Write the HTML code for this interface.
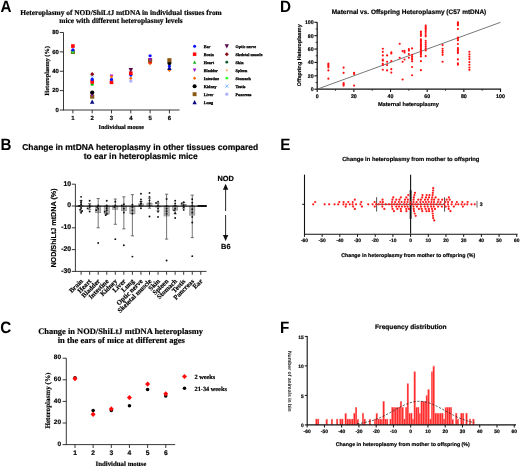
<!DOCTYPE html>
<html><head><meta charset="utf-8"><style>
html,body{margin:0;padding:0;background:#fff;}
svg{display:block;will-change:transform;}
text{text-rendering:geometricPrecision;}
</style></head><body>
<svg width="520" height="466" viewBox="0 0 520 466">
<rect width="520" height="466" fill="#fff"/>
<text transform="translate(0.60,11.50) scale(0.93,1)" style="font-family:'Liberation Sans',sans-serif;font-weight:bold;font-size:16.4px" fill="#000">A</text>
<text x="121.00" y="15.10" style="font-family:'Liberation Serif',serif;font-weight:bold;font-size:7.4px" text-anchor="middle" fill="#000" stroke="#000" stroke-width="0.18" >Heteroplasmy of NOD/ShiLtJ mtDNA in individual tissues from</text>
<text x="121.00" y="23.10" style="font-family:'Liberation Serif',serif;font-weight:bold;font-size:7.4px" text-anchor="middle" fill="#000" stroke="#000" stroke-width="0.18" >mice with different heteroplasmy levels</text>
<line x1="63.50" y1="32.50" x2="63.50" y2="110.50" stroke="#222" stroke-width="0.9" />
<line x1="63.50" y1="110.00" x2="179.50" y2="110.00" stroke="#222" stroke-width="0.9" />
<line x1="59.80" y1="110.00" x2="63.50" y2="110.00" stroke="#222" stroke-width="0.9" />
<text x="58.90" y="111.80" style="font-family:'Liberation Sans',sans-serif;font-weight:bold;font-size:5.9px" text-anchor="end" fill="#000" stroke="#000" stroke-width="0.18" >0</text>
<line x1="59.80" y1="90.62" x2="63.50" y2="90.62" stroke="#222" stroke-width="0.9" />
<text x="58.90" y="92.42" style="font-family:'Liberation Sans',sans-serif;font-weight:bold;font-size:5.9px" text-anchor="end" fill="#000" stroke="#000" stroke-width="0.18" >20</text>
<line x1="59.80" y1="71.25" x2="63.50" y2="71.25" stroke="#222" stroke-width="0.9" />
<text x="58.90" y="73.05" style="font-family:'Liberation Sans',sans-serif;font-weight:bold;font-size:5.9px" text-anchor="end" fill="#000" stroke="#000" stroke-width="0.18" >40</text>
<line x1="59.80" y1="51.88" x2="63.50" y2="51.88" stroke="#222" stroke-width="0.9" />
<text x="58.90" y="53.67" style="font-family:'Liberation Sans',sans-serif;font-weight:bold;font-size:5.9px" text-anchor="end" fill="#000" stroke="#000" stroke-width="0.18" >60</text>
<line x1="59.80" y1="32.50" x2="63.50" y2="32.50" stroke="#222" stroke-width="0.9" />
<text x="58.90" y="34.30" style="font-family:'Liberation Sans',sans-serif;font-weight:bold;font-size:5.9px" text-anchor="end" fill="#000" stroke="#000" stroke-width="0.18" >80</text>
<line x1="72.90" y1="110.00" x2="72.90" y2="113.40" stroke="#222" stroke-width="0.9" />
<text x="72.90" y="119.50" style="font-family:'Liberation Sans',sans-serif;font-weight:bold;font-size:6.0px" text-anchor="middle" fill="#000" stroke="#000" stroke-width="0.18" >1</text>
<line x1="92.20" y1="110.00" x2="92.20" y2="113.40" stroke="#222" stroke-width="0.9" />
<text x="92.20" y="119.50" style="font-family:'Liberation Sans',sans-serif;font-weight:bold;font-size:6.0px" text-anchor="middle" fill="#000" stroke="#000" stroke-width="0.18" >2</text>
<line x1="111.50" y1="110.00" x2="111.50" y2="113.40" stroke="#222" stroke-width="0.9" />
<text x="111.50" y="119.50" style="font-family:'Liberation Sans',sans-serif;font-weight:bold;font-size:6.0px" text-anchor="middle" fill="#000" stroke="#000" stroke-width="0.18" >3</text>
<line x1="130.80" y1="110.00" x2="130.80" y2="113.40" stroke="#222" stroke-width="0.9" />
<text x="130.80" y="119.50" style="font-family:'Liberation Sans',sans-serif;font-weight:bold;font-size:6.0px" text-anchor="middle" fill="#000" stroke="#000" stroke-width="0.18" >4</text>
<line x1="150.10" y1="110.00" x2="150.10" y2="113.40" stroke="#222" stroke-width="0.9" />
<text x="150.10" y="119.50" style="font-family:'Liberation Sans',sans-serif;font-weight:bold;font-size:6.0px" text-anchor="middle" fill="#000" stroke="#000" stroke-width="0.18" >5</text>
<line x1="169.40" y1="110.00" x2="169.40" y2="113.40" stroke="#222" stroke-width="0.9" />
<text x="169.40" y="119.50" style="font-family:'Liberation Sans',sans-serif;font-weight:bold;font-size:6.0px" text-anchor="middle" fill="#000" stroke="#000" stroke-width="0.18" >6</text>
<text x="121.30" y="128.60" style="font-family:'Liberation Serif',serif;font-weight:bold;font-size:6.15px" text-anchor="middle" fill="#000" stroke="#000" stroke-width="0.18" >Individual mouse</text>
<text x="0.00" y="0.00" style="font-family:'Liberation Serif',serif;font-weight:bold;font-size:6.25px" text-anchor="middle" fill="#000" stroke="#000" stroke-width="0.18" transform="translate(48.9,70.9) rotate(-90)">Heteroplasmy (%)</text>
<circle cx="72.90" cy="52.36" r="1.75" fill="#b0b4ff"/>
<rect x="70.84" y="49.82" width="4.12" height="4.12" fill="#8a5a14"/>
<polygon points="72.90,50.01 74.66,53.44 71.14,53.44" fill="#12b012"/>
<circle cx="72.90" cy="51.39" r="1.43" fill="#30ff30"/>
<circle cx="72.90" cy="49.94" r="1.62" fill="#0a14ff"/>
<rect x="71.06" y="44.23" width="3.68" height="3.68" fill="#ff0a0a"/>
<circle cx="92.20" cy="84.33" r="1.43" fill="#30ff30"/>
<polygon points="92.20,81.98 93.96,85.41 90.44,85.41" fill="#12b012"/>
<rect x="90.36" y="80.07" width="3.68" height="3.68" fill="#ff0a0a"/>
<path d="M90.55,75.89L93.85,79.20M93.85,75.89L90.55,79.20" stroke="#60a8ff" stroke-width="0.8"/>
<circle cx="92.20" cy="79.39" r="1.62" fill="#0a14ff"/>
<polygon points="92.20,72.02 94.34,74.16 92.20,76.29 90.06,74.16" fill="#8a0a14"/>
<polygon points="92.20,99.41 94.46,103.82 89.94,103.82" fill="#0a0a80"/>
<rect x="90.14" y="94.57" width="4.12" height="4.12" fill="#8a5a14"/>
<polygon points="92.20,96.65 94.05,93.04 90.35,93.04" fill="#9a10d0"/>
<circle cx="92.20" cy="92.56" r="2.11" fill="#000000"/>
<rect x="109.66" y="80.46" width="3.68" height="3.68" fill="#ff0a0a"/>
<circle cx="111.50" cy="79.39" r="1.62" fill="#0a14ff"/>
<polygon points="111.50,78.05 113.35,74.44 109.65,74.44" fill="#9a10d0"/>
<polygon points="111.50,74.91 113.27,76.67 111.50,78.44 109.73,76.67" fill="#ff6a10"/>
<circle cx="130.80" cy="80.94" r="1.75" fill="#b0b4ff"/>
<polygon points="130.80,76.45 132.57,78.22 130.80,79.99 129.03,78.22" fill="#ff6a10"/>
<circle cx="130.80" cy="75.12" r="1.62" fill="#0a14ff"/>
<rect x="128.96" y="71.35" width="3.68" height="3.68" fill="#ff0a0a"/>
<polygon points="130.80,72.45 133.06,68.03 128.54,68.03" fill="#5a0a4a"/>
<polygon points="150.10,61.73 151.87,63.50 150.10,65.27 148.33,63.50" fill="#ff6a10"/>
<rect x="148.26" y="59.73" width="3.68" height="3.68" fill="#ff0a0a"/>
<rect x="148.04" y="58.05" width="4.12" height="4.12" fill="#8a5a14"/>
<polygon points="150.10,61.58 151.95,57.97 148.25,57.97" fill="#9a10d0"/>
<circle cx="150.10" cy="55.75" r="1.62" fill="#0a14ff"/>
<polygon points="169.40,68.51 171.17,70.28 169.40,72.05 167.63,70.28" fill="#ff6a10"/>
<polygon points="169.40,65.50 171.66,69.92 167.14,69.92" fill="#0a0a80"/>
<circle cx="169.40" cy="66.12" r="1.62" fill="#0a14ff"/>
<circle cx="169.40" cy="63.02" r="2.11" fill="#000000"/>
<rect x="167.34" y="58.15" width="4.12" height="4.12" fill="#8a5a14"/>
<circle cx="194.60" cy="46.20" r="1.54" fill="#0a14ff"/>
<text x="203.80" y="47.60" style="font-family:'Liberation Serif',serif;font-weight:bold;font-size:4.1px" text-anchor="start" fill="#000" stroke="#000" stroke-width="0.26" >Ear</text>
<rect x="192.85" y="52.45" width="3.50" height="3.50" fill="#ff0a0a"/>
<text x="203.80" y="55.60" style="font-family:'Liberation Serif',serif;font-weight:bold;font-size:4.1px" text-anchor="start" fill="#000" stroke="#000" stroke-width="0.26" >Brain</text>
<polygon points="194.60,60.41 196.29,63.69 192.91,63.69" fill="#12b012"/>
<text x="203.80" y="63.60" style="font-family:'Liberation Serif',serif;font-weight:bold;font-size:4.1px" text-anchor="start" fill="#000" stroke="#000" stroke-width="0.26" >Heart</text>
<polygon points="194.60,72.08 196.37,68.62 192.83,68.62" fill="#9a10d0"/>
<text x="203.80" y="71.60" style="font-family:'Liberation Serif',serif;font-weight:bold;font-size:4.1px" text-anchor="start" fill="#000" stroke="#000" stroke-width="0.26" >Bladder</text>
<polygon points="194.60,76.50 196.30,78.20 194.60,79.90 192.90,78.20" fill="#ff6a10"/>
<text x="203.80" y="79.60" style="font-family:'Liberation Serif',serif;font-weight:bold;font-size:4.1px" text-anchor="start" fill="#000" stroke="#000" stroke-width="0.26" >Intestine</text>
<circle cx="194.60" cy="86.20" r="2.01" fill="#000000"/>
<text x="203.80" y="87.60" style="font-family:'Liberation Serif',serif;font-weight:bold;font-size:4.1px" text-anchor="start" fill="#000" stroke="#000" stroke-width="0.26" >Kidney</text>
<rect x="192.64" y="92.24" width="3.92" height="3.92" fill="#8a5a14"/>
<text x="203.80" y="95.60" style="font-family:'Liberation Serif',serif;font-weight:bold;font-size:4.1px" text-anchor="start" fill="#000" stroke="#000" stroke-width="0.26" >Liver</text>
<polygon points="194.60,99.94 196.76,104.16 192.44,104.16" fill="#0a0a80"/>
<text x="203.80" y="103.60" style="font-family:'Liberation Serif',serif;font-weight:bold;font-size:4.1px" text-anchor="start" fill="#000" stroke="#000" stroke-width="0.26" >Lung</text>
<polygon points="226.80,48.46 228.96,44.24 224.64,44.24" fill="#5a0a4a"/>
<text x="235.60" y="47.60" style="font-family:'Liberation Serif',serif;font-weight:bold;font-size:4.1px" text-anchor="start" fill="#000" stroke="#000" stroke-width="0.26" >Optic nerve</text>
<polygon points="226.80,52.15 228.85,54.20 226.80,56.25 224.75,54.20" fill="#8a0a14"/>
<text x="235.60" y="55.60" style="font-family:'Liberation Serif',serif;font-weight:bold;font-size:4.1px" text-anchor="start" fill="#000" stroke="#000" stroke-width="0.26" >Skeletal muscle</text>
<circle cx="226.80" cy="62.20" r="1.40" fill="#0a5a2a"/>
<text x="235.60" y="63.60" style="font-family:'Liberation Serif',serif;font-weight:bold;font-size:4.1px" text-anchor="start" fill="#000" stroke="#000" stroke-width="0.26" >Skin</text>
<path d="M225.66,70.20H227.94M226.80,69.06V71.34" stroke="#ffb070" stroke-width="1"/>
<text x="235.60" y="71.60" style="font-family:'Liberation Serif',serif;font-weight:bold;font-size:4.1px" text-anchor="start" fill="#000" stroke="#000" stroke-width="0.26" >Spleen</text>
<circle cx="226.80" cy="78.20" r="1.36" fill="#30ff30"/>
<text x="235.60" y="79.60" style="font-family:'Liberation Serif',serif;font-weight:bold;font-size:4.1px" text-anchor="start" fill="#000" stroke="#000" stroke-width="0.26" >Stomach</text>
<path d="M225.23,84.62L228.38,87.78M228.38,84.62L225.23,87.78" stroke="#60a8ff" stroke-width="0.8"/>
<text x="235.60" y="87.60" style="font-family:'Liberation Serif',serif;font-weight:bold;font-size:4.1px" text-anchor="start" fill="#000" stroke="#000" stroke-width="0.26" >Testis</text>
<circle cx="226.80" cy="94.20" r="1.66" fill="#b0b4ff"/>
<text x="235.60" y="95.60" style="font-family:'Liberation Serif',serif;font-weight:bold;font-size:4.1px" text-anchor="start" fill="#000" stroke="#000" stroke-width="0.26" >Pancreas</text>
<text transform="translate(0.40,149.70) scale(0.93,1)" style="font-family:'Liberation Sans',sans-serif;font-weight:bold;font-size:16.4px" fill="#000">B</text>
<text x="140.20" y="149.60" style="font-family:'Liberation Sans',sans-serif;font-weight:bold;font-size:8.45px" text-anchor="middle" fill="#000" stroke="#000" stroke-width="0.18" >Change in mtDNA heteroplasmy in other tissues compared</text>
<text x="140.70" y="159.00" style="font-family:'Liberation Sans',sans-serif;font-weight:bold;font-size:8.45px" text-anchor="middle" fill="#000" stroke="#000" stroke-width="0.18" >to ear in heteroplasmic mice</text>
<line x1="75.40" y1="184.20" x2="75.40" y2="271.90" stroke="#222" stroke-width="0.9" />
<line x1="75.40" y1="271.40" x2="206.50" y2="271.40" stroke="#222" stroke-width="0.9" />
<line x1="71.80" y1="184.20" x2="75.40" y2="184.20" stroke="#222" stroke-width="0.9" />
<text x="71.00" y="185.50" style="font-family:'Liberation Sans',sans-serif;font-weight:bold;font-size:6.8px" text-anchor="end" fill="#000" stroke="#000" stroke-width="0.18" >10</text>
<line x1="71.80" y1="206.00" x2="75.40" y2="206.00" stroke="#222" stroke-width="0.9" />
<text x="71.00" y="207.30" style="font-family:'Liberation Sans',sans-serif;font-weight:bold;font-size:6.8px" text-anchor="end" fill="#000" stroke="#000" stroke-width="0.18" >0</text>
<line x1="71.80" y1="227.80" x2="75.40" y2="227.80" stroke="#222" stroke-width="0.9" />
<text x="71.00" y="229.10" style="font-family:'Liberation Sans',sans-serif;font-weight:bold;font-size:6.8px" text-anchor="end" fill="#000" stroke="#000" stroke-width="0.18" >-10</text>
<line x1="71.80" y1="249.60" x2="75.40" y2="249.60" stroke="#222" stroke-width="0.9" />
<text x="71.00" y="250.90" style="font-family:'Liberation Sans',sans-serif;font-weight:bold;font-size:6.8px" text-anchor="end" fill="#000" stroke="#000" stroke-width="0.18" >-20</text>
<line x1="71.80" y1="271.40" x2="75.40" y2="271.40" stroke="#222" stroke-width="0.9" />
<text x="71.00" y="272.70" style="font-family:'Liberation Sans',sans-serif;font-weight:bold;font-size:6.8px" text-anchor="end" fill="#000" stroke="#000" stroke-width="0.18" >-30</text>
<text x="0.00" y="0.00" style="font-family:'Liberation Sans',sans-serif;font-weight:bold;font-size:7.2px" text-anchor="middle" fill="#000" stroke="#000" stroke-width="0.18" transform="translate(56.2,228) rotate(-90)">NOD/ShiLtJ mtDNA (%)</text>
<line x1="81.10" y1="271.40" x2="81.10" y2="274.80" stroke="#222" stroke-width="0.9" />
<text x="0.00" y="0.00" style="font-family:'Liberation Serif',serif;font-weight:bold;font-size:6.8px" text-anchor="end" fill="#000" stroke="#000" stroke-width="0.18" transform="translate(83.40,281.6) rotate(-45)">Brain</text>
<line x1="89.65" y1="271.40" x2="89.65" y2="274.80" stroke="#222" stroke-width="0.9" />
<text x="0.00" y="0.00" style="font-family:'Liberation Serif',serif;font-weight:bold;font-size:6.8px" text-anchor="end" fill="#000" stroke="#000" stroke-width="0.18" transform="translate(91.95,281.6) rotate(-45)">Heart</text>
<line x1="98.20" y1="271.40" x2="98.20" y2="274.80" stroke="#222" stroke-width="0.9" />
<text x="0.00" y="0.00" style="font-family:'Liberation Serif',serif;font-weight:bold;font-size:6.8px" text-anchor="end" fill="#000" stroke="#000" stroke-width="0.18" transform="translate(100.50,281.6) rotate(-45)">Bladder</text>
<line x1="106.75" y1="271.40" x2="106.75" y2="274.80" stroke="#222" stroke-width="0.9" />
<text x="0.00" y="0.00" style="font-family:'Liberation Serif',serif;font-weight:bold;font-size:6.8px" text-anchor="end" fill="#000" stroke="#000" stroke-width="0.18" transform="translate(109.05,281.6) rotate(-45)">Intestine</text>
<line x1="115.30" y1="271.40" x2="115.30" y2="274.80" stroke="#222" stroke-width="0.9" />
<text x="0.00" y="0.00" style="font-family:'Liberation Serif',serif;font-weight:bold;font-size:6.8px" text-anchor="end" fill="#000" stroke="#000" stroke-width="0.18" transform="translate(117.60,281.6) rotate(-45)">Kidney</text>
<line x1="123.85" y1="271.40" x2="123.85" y2="274.80" stroke="#222" stroke-width="0.9" />
<text x="0.00" y="0.00" style="font-family:'Liberation Serif',serif;font-weight:bold;font-size:6.8px" text-anchor="end" fill="#000" stroke="#000" stroke-width="0.18" transform="translate(126.15,281.6) rotate(-45)">Liver</text>
<line x1="132.40" y1="271.40" x2="132.40" y2="274.80" stroke="#222" stroke-width="0.9" />
<text x="0.00" y="0.00" style="font-family:'Liberation Serif',serif;font-weight:bold;font-size:6.8px" text-anchor="end" fill="#000" stroke="#000" stroke-width="0.18" transform="translate(134.70,281.6) rotate(-45)">Lung</text>
<line x1="140.95" y1="271.40" x2="140.95" y2="274.80" stroke="#222" stroke-width="0.9" />
<text x="0.00" y="0.00" style="font-family:'Liberation Serif',serif;font-weight:bold;font-size:6.8px" text-anchor="end" fill="#000" stroke="#000" stroke-width="0.18" transform="translate(143.25,281.6) rotate(-45)">Optic nerve</text>
<line x1="149.50" y1="271.40" x2="149.50" y2="274.80" stroke="#222" stroke-width="0.9" />
<text x="0.00" y="0.00" style="font-family:'Liberation Serif',serif;font-weight:bold;font-size:6.8px" text-anchor="end" fill="#000" stroke="#000" stroke-width="0.18" transform="translate(151.80,281.6) rotate(-45)">Skeletal muscle</text>
<line x1="158.05" y1="271.40" x2="158.05" y2="274.80" stroke="#222" stroke-width="0.9" />
<text x="0.00" y="0.00" style="font-family:'Liberation Serif',serif;font-weight:bold;font-size:6.8px" text-anchor="end" fill="#000" stroke="#000" stroke-width="0.18" transform="translate(160.35,281.6) rotate(-45)">Skin</text>
<line x1="166.60" y1="271.40" x2="166.60" y2="274.80" stroke="#222" stroke-width="0.9" />
<text x="0.00" y="0.00" style="font-family:'Liberation Serif',serif;font-weight:bold;font-size:6.8px" text-anchor="end" fill="#000" stroke="#000" stroke-width="0.18" transform="translate(168.90,281.6) rotate(-45)">Spleen</text>
<line x1="175.15" y1="271.40" x2="175.15" y2="274.80" stroke="#222" stroke-width="0.9" />
<text x="0.00" y="0.00" style="font-family:'Liberation Serif',serif;font-weight:bold;font-size:6.8px" text-anchor="end" fill="#000" stroke="#000" stroke-width="0.18" transform="translate(177.45,281.6) rotate(-45)">Stomach</text>
<line x1="183.70" y1="271.40" x2="183.70" y2="274.80" stroke="#222" stroke-width="0.9" />
<text x="0.00" y="0.00" style="font-family:'Liberation Serif',serif;font-weight:bold;font-size:6.8px" text-anchor="end" fill="#000" stroke="#000" stroke-width="0.18" transform="translate(186.00,281.6) rotate(-45)">Testis</text>
<line x1="192.25" y1="271.40" x2="192.25" y2="274.80" stroke="#222" stroke-width="0.9" />
<text x="0.00" y="0.00" style="font-family:'Liberation Serif',serif;font-weight:bold;font-size:6.8px" text-anchor="end" fill="#000" stroke="#000" stroke-width="0.18" transform="translate(194.55,281.6) rotate(-45)">Pancreas</text>
<line x1="200.80" y1="271.40" x2="200.80" y2="274.80" stroke="#222" stroke-width="0.9" />
<text x="0.00" y="0.00" style="font-family:'Liberation Serif',serif;font-weight:bold;font-size:6.8px" text-anchor="end" fill="#000" stroke="#000" stroke-width="0.18" transform="translate(203.10,281.6) rotate(-45)">Ear</text>
<rect x="78.50" y="205.56" width="5.2" height="0.44" fill="#b4b4b4" stroke="#7a7a7a" stroke-width="0.5"/>
<line x1="81.10" y1="200.77" x2="81.10" y2="211.67" stroke="#3a3a3a" stroke-width="0.7" />
<line x1="79.50" y1="200.77" x2="82.70" y2="200.77" stroke="#3a3a3a" stroke-width="0.7" />
<line x1="79.50" y1="211.67" x2="82.70" y2="211.67" stroke="#3a3a3a" stroke-width="0.7" />
<circle cx="81.10" cy="196.84" r="0.95" fill="#111"/>
<circle cx="81.10" cy="200.77" r="0.95" fill="#111"/>
<circle cx="81.10" cy="202.73" r="0.95" fill="#111"/>
<circle cx="81.10" cy="204.69" r="0.95" fill="#111"/>
<circle cx="79.10" cy="206.00" r="0.95" fill="#111"/>
<circle cx="81.10" cy="207.96" r="0.95" fill="#111"/>
<circle cx="80.10" cy="209.71" r="0.95" fill="#111"/>
<circle cx="82.10" cy="211.01" r="0.95" fill="#111"/>
<circle cx="81.10" cy="212.76" r="0.95" fill="#111"/>
<rect x="87.05" y="206.00" width="5.2" height="0.44" fill="#b4b4b4" stroke="#7a7a7a" stroke-width="0.5"/>
<line x1="89.65" y1="203.60" x2="89.65" y2="209.27" stroke="#3a3a3a" stroke-width="0.7" />
<line x1="88.05" y1="203.60" x2="91.25" y2="203.60" stroke="#3a3a3a" stroke-width="0.7" />
<line x1="88.05" y1="209.27" x2="91.25" y2="209.27" stroke="#3a3a3a" stroke-width="0.7" />
<circle cx="89.65" cy="200.77" r="0.95" fill="#111"/>
<circle cx="89.65" cy="205.13" r="0.95" fill="#111"/>
<circle cx="89.65" cy="207.09" r="0.95" fill="#111"/>
<circle cx="87.65" cy="208.40" r="0.95" fill="#111"/>
<circle cx="89.65" cy="211.45" r="0.95" fill="#111"/>
<rect x="95.60" y="206.00" width="5.2" height="6.76" fill="#b4b4b4" stroke="#7a7a7a" stroke-width="0.5"/>
<line x1="98.20" y1="198.59" x2="98.20" y2="227.80" stroke="#3a3a3a" stroke-width="0.7" />
<line x1="96.60" y1="198.59" x2="99.80" y2="198.59" stroke="#3a3a3a" stroke-width="0.7" />
<line x1="96.60" y1="227.80" x2="99.80" y2="227.80" stroke="#3a3a3a" stroke-width="0.7" />
<circle cx="98.20" cy="205.56" r="0.95" fill="#111"/>
<circle cx="97.20" cy="207.09" r="0.95" fill="#111"/>
<circle cx="98.20" cy="208.83" r="0.95" fill="#111"/>
<circle cx="96.20" cy="210.14" r="0.95" fill="#111"/>
<circle cx="98.20" cy="243.06" r="0.95" fill="#111"/>
<rect x="104.15" y="206.00" width="5.2" height="8.07" fill="#b4b4b4" stroke="#7a7a7a" stroke-width="0.5"/>
<line x1="106.75" y1="206.00" x2="106.75" y2="214.07" stroke="#3a3a3a" stroke-width="0.7" />
<line x1="105.15" y1="206.00" x2="108.35" y2="206.00" stroke="#3a3a3a" stroke-width="0.7" />
<line x1="105.15" y1="214.07" x2="108.35" y2="214.07" stroke="#3a3a3a" stroke-width="0.7" />
<circle cx="106.75" cy="200.77" r="0.95" fill="#111"/>
<circle cx="106.75" cy="205.56" r="0.95" fill="#111"/>
<circle cx="106.75" cy="208.18" r="0.95" fill="#111"/>
<circle cx="106.75" cy="210.36" r="0.95" fill="#111"/>
<circle cx="104.75" cy="211.67" r="0.95" fill="#111"/>
<circle cx="106.75" cy="213.63" r="0.95" fill="#111"/>
<circle cx="105.75" cy="215.16" r="0.95" fill="#111"/>
<rect x="112.70" y="206.00" width="5.2" height="3.27" fill="#b4b4b4" stroke="#7a7a7a" stroke-width="0.5"/>
<line x1="115.30" y1="199.02" x2="115.30" y2="224.31" stroke="#3a3a3a" stroke-width="0.7" />
<line x1="113.70" y1="199.02" x2="116.90" y2="199.02" stroke="#3a3a3a" stroke-width="0.7" />
<line x1="113.70" y1="224.31" x2="116.90" y2="224.31" stroke="#3a3a3a" stroke-width="0.7" />
<circle cx="115.30" cy="201.64" r="0.95" fill="#111"/>
<circle cx="115.30" cy="205.56" r="0.95" fill="#111"/>
<circle cx="114.30" cy="207.09" r="0.95" fill="#111"/>
<circle cx="115.30" cy="239.14" r="0.95" fill="#111"/>
<rect x="121.25" y="206.00" width="5.2" height="4.80" fill="#b4b4b4" stroke="#7a7a7a" stroke-width="0.5"/>
<line x1="123.85" y1="196.84" x2="123.85" y2="228.89" stroke="#3a3a3a" stroke-width="0.7" />
<line x1="122.25" y1="196.84" x2="125.45" y2="196.84" stroke="#3a3a3a" stroke-width="0.7" />
<line x1="122.25" y1="228.89" x2="125.45" y2="228.89" stroke="#3a3a3a" stroke-width="0.7" />
<circle cx="123.85" cy="204.26" r="0.95" fill="#111"/>
<circle cx="121.85" cy="205.56" r="0.95" fill="#111"/>
<circle cx="123.85" cy="208.62" r="0.95" fill="#111"/>
<circle cx="123.85" cy="212.54" r="0.95" fill="#111"/>
<circle cx="123.85" cy="245.24" r="0.95" fill="#111"/>
<rect x="129.80" y="206.00" width="5.2" height="7.85" fill="#b4b4b4" stroke="#7a7a7a" stroke-width="0.5"/>
<line x1="132.40" y1="194.66" x2="132.40" y2="235.87" stroke="#3a3a3a" stroke-width="0.7" />
<line x1="130.80" y1="194.66" x2="134.00" y2="194.66" stroke="#3a3a3a" stroke-width="0.7" />
<line x1="130.80" y1="235.87" x2="134.00" y2="235.87" stroke="#3a3a3a" stroke-width="0.7" />
<circle cx="132.40" cy="204.69" r="0.95" fill="#111"/>
<circle cx="132.40" cy="207.09" r="0.95" fill="#111"/>
<circle cx="132.40" cy="210.36" r="0.95" fill="#111"/>
<circle cx="132.40" cy="213.63" r="0.95" fill="#111"/>
<circle cx="132.40" cy="256.58" r="0.95" fill="#111"/>
<rect x="138.35" y="203.82" width="5.2" height="2.18" fill="#b4b4b4" stroke="#7a7a7a" stroke-width="0.5"/>
<line x1="140.95" y1="201.64" x2="140.95" y2="206.00" stroke="#3a3a3a" stroke-width="0.7" />
<line x1="139.35" y1="201.64" x2="142.55" y2="201.64" stroke="#3a3a3a" stroke-width="0.7" />
<line x1="139.35" y1="206.00" x2="142.55" y2="206.00" stroke="#3a3a3a" stroke-width="0.7" />
<circle cx="140.95" cy="193.79" r="0.95" fill="#111"/>
<circle cx="140.95" cy="199.46" r="0.95" fill="#111"/>
<circle cx="140.95" cy="201.64" r="0.95" fill="#111"/>
<circle cx="140.95" cy="203.82" r="0.95" fill="#111"/>
<circle cx="139.95" cy="205.35" r="0.95" fill="#111"/>
<circle cx="140.95" cy="208.18" r="0.95" fill="#111"/>
<rect x="146.90" y="202.95" width="5.2" height="3.05" fill="#b4b4b4" stroke="#7a7a7a" stroke-width="0.5"/>
<line x1="149.50" y1="198.15" x2="149.50" y2="208.18" stroke="#3a3a3a" stroke-width="0.7" />
<line x1="147.90" y1="198.15" x2="151.10" y2="198.15" stroke="#3a3a3a" stroke-width="0.7" />
<line x1="147.90" y1="208.18" x2="151.10" y2="208.18" stroke="#3a3a3a" stroke-width="0.7" />
<circle cx="149.50" cy="192.92" r="0.95" fill="#111"/>
<circle cx="149.50" cy="196.84" r="0.95" fill="#111"/>
<circle cx="149.50" cy="200.55" r="0.95" fill="#111"/>
<circle cx="149.50" cy="203.38" r="0.95" fill="#111"/>
<circle cx="149.50" cy="205.56" r="0.95" fill="#111"/>
<circle cx="149.50" cy="216.46" r="0.95" fill="#111"/>
<rect x="155.45" y="206.00" width="5.2" height="1.09" fill="#b4b4b4" stroke="#7a7a7a" stroke-width="0.5"/>
<line x1="158.05" y1="203.17" x2="158.05" y2="210.80" stroke="#3a3a3a" stroke-width="0.7" />
<line x1="156.45" y1="203.17" x2="159.65" y2="203.17" stroke="#3a3a3a" stroke-width="0.7" />
<line x1="156.45" y1="210.80" x2="159.65" y2="210.80" stroke="#3a3a3a" stroke-width="0.7" />
<circle cx="158.05" cy="201.64" r="0.95" fill="#111"/>
<circle cx="156.05" cy="202.95" r="0.95" fill="#111"/>
<circle cx="158.05" cy="205.56" r="0.95" fill="#111"/>
<circle cx="158.05" cy="208.62" r="0.95" fill="#111"/>
<circle cx="158.05" cy="211.67" r="0.95" fill="#111"/>
<circle cx="158.05" cy="216.90" r="0.95" fill="#111"/>
<rect x="164.00" y="206.00" width="5.2" height="10.03" fill="#b4b4b4" stroke="#7a7a7a" stroke-width="0.5"/>
<line x1="166.60" y1="194.23" x2="166.60" y2="239.14" stroke="#3a3a3a" stroke-width="0.7" />
<line x1="165.00" y1="194.23" x2="168.20" y2="194.23" stroke="#3a3a3a" stroke-width="0.7" />
<line x1="165.00" y1="239.14" x2="168.20" y2="239.14" stroke="#3a3a3a" stroke-width="0.7" />
<circle cx="166.60" cy="199.02" r="0.95" fill="#111"/>
<circle cx="166.60" cy="206.00" r="0.95" fill="#111"/>
<circle cx="166.60" cy="208.62" r="0.95" fill="#111"/>
<circle cx="166.60" cy="211.23" r="0.95" fill="#111"/>
<circle cx="166.60" cy="213.85" r="0.95" fill="#111"/>
<circle cx="166.60" cy="260.50" r="0.95" fill="#111"/>
<rect x="172.55" y="206.00" width="5.2" height="4.14" fill="#b4b4b4" stroke="#7a7a7a" stroke-width="0.5"/>
<line x1="175.15" y1="205.56" x2="175.15" y2="213.85" stroke="#3a3a3a" stroke-width="0.7" />
<line x1="173.55" y1="205.56" x2="176.75" y2="205.56" stroke="#3a3a3a" stroke-width="0.7" />
<line x1="173.55" y1="213.85" x2="176.75" y2="213.85" stroke="#3a3a3a" stroke-width="0.7" />
<circle cx="175.15" cy="200.77" r="0.95" fill="#111"/>
<circle cx="175.15" cy="203.38" r="0.95" fill="#111"/>
<circle cx="175.15" cy="205.35" r="0.95" fill="#111"/>
<circle cx="175.15" cy="208.62" r="0.95" fill="#111"/>
<circle cx="174.15" cy="210.36" r="0.95" fill="#111"/>
<circle cx="175.15" cy="213.19" r="0.95" fill="#111"/>
<circle cx="175.15" cy="217.99" r="0.95" fill="#111"/>
<rect x="181.10" y="204.26" width="5.2" height="1.74" fill="#b4b4b4" stroke="#7a7a7a" stroke-width="0.5"/>
<line x1="183.70" y1="202.51" x2="183.70" y2="208.18" stroke="#3a3a3a" stroke-width="0.7" />
<line x1="182.10" y1="202.51" x2="185.30" y2="202.51" stroke="#3a3a3a" stroke-width="0.7" />
<line x1="182.10" y1="208.18" x2="185.30" y2="208.18" stroke="#3a3a3a" stroke-width="0.7" />
<circle cx="183.70" cy="202.08" r="0.95" fill="#111"/>
<circle cx="181.70" cy="203.38" r="0.95" fill="#111"/>
<circle cx="183.70" cy="205.13" r="0.95" fill="#111"/>
<circle cx="183.70" cy="207.31" r="0.95" fill="#111"/>
<circle cx="183.70" cy="209.92" r="0.95" fill="#111"/>
<rect x="189.65" y="206.00" width="5.2" height="9.16" fill="#b4b4b4" stroke="#7a7a7a" stroke-width="0.5"/>
<line x1="192.25" y1="195.10" x2="192.25" y2="237.61" stroke="#3a3a3a" stroke-width="0.7" />
<line x1="190.65" y1="195.10" x2="193.85" y2="195.10" stroke="#3a3a3a" stroke-width="0.7" />
<line x1="190.65" y1="237.61" x2="193.85" y2="237.61" stroke="#3a3a3a" stroke-width="0.7" />
<circle cx="192.25" cy="199.24" r="0.95" fill="#111"/>
<circle cx="192.25" cy="202.73" r="0.95" fill="#111"/>
<circle cx="192.25" cy="205.56" r="0.95" fill="#111"/>
<circle cx="192.25" cy="209.27" r="0.95" fill="#111"/>
<circle cx="192.25" cy="212.54" r="0.95" fill="#111"/>
<circle cx="192.25" cy="216.90" r="0.95" fill="#111"/>
<circle cx="192.25" cy="222.57" r="0.95" fill="#111"/>
<circle cx="192.25" cy="256.14" r="0.95" fill="#111"/>
<line x1="75.40" y1="206.00" x2="206.00" y2="206.00" stroke="#111" stroke-width="1.25" />
<line x1="197.60" y1="206.00" x2="206.80" y2="206.00" stroke="#111" stroke-width="2.0" />
<text x="225.60" y="181.40" style="font-family:'Liberation Sans',sans-serif;font-weight:bold;font-size:7.4px" text-anchor="middle" fill="#000" stroke="#000" stroke-width="0.18" >NOD</text>
<text x="225.80" y="249.40" style="font-family:'Liberation Sans',sans-serif;font-weight:bold;font-size:7.4px" text-anchor="middle" fill="#000" stroke="#000" stroke-width="0.18" >B6</text>
<line x1="225.60" y1="187.00" x2="225.60" y2="211.00" stroke="#111" stroke-width="0.9" />
<line x1="225.60" y1="215.00" x2="225.60" y2="238.00" stroke="#111" stroke-width="0.9" />
<polygon points="225.6,183.8 228.3,189.8 222.9,189.8" fill="#111"/>
<polygon points="225.6,241.0 228.3,235.0 222.9,235.0" fill="#111"/>
<text transform="translate(0.30,333.10) scale(0.93,1)" style="font-family:'Liberation Sans',sans-serif;font-weight:bold;font-size:16.4px" fill="#000">C</text>
<text x="120.60" y="334.00" style="font-family:'Liberation Serif',serif;font-weight:bold;font-size:8.45px" text-anchor="middle" fill="#000" stroke="#000" stroke-width="0.18" >Change in NOD/ShiLtJ mtDNA heteroplasmy</text>
<text x="121.30" y="343.10" style="font-family:'Liberation Serif',serif;font-weight:bold;font-size:8.55px" text-anchor="middle" fill="#000" stroke="#000" stroke-width="0.18" >in the ears of mice at different ages</text>
<line x1="66.30" y1="358.20" x2="66.30" y2="445.10" stroke="#222" stroke-width="0.9" />
<line x1="66.30" y1="444.60" x2="175.20" y2="444.60" stroke="#222" stroke-width="0.9" />
<line x1="62.60" y1="444.60" x2="66.30" y2="444.60" stroke="#222" stroke-width="0.9" />
<text x="61.10" y="445.70" style="font-family:'Liberation Sans',sans-serif;font-weight:bold;font-size:6.5px" text-anchor="end" fill="#000" stroke="#000" stroke-width="0.18" >0</text>
<line x1="62.60" y1="423.00" x2="66.30" y2="423.00" stroke="#222" stroke-width="0.9" />
<text x="61.10" y="424.10" style="font-family:'Liberation Sans',sans-serif;font-weight:bold;font-size:6.5px" text-anchor="end" fill="#000" stroke="#000" stroke-width="0.18" >20</text>
<line x1="62.60" y1="401.40" x2="66.30" y2="401.40" stroke="#222" stroke-width="0.9" />
<text x="61.10" y="402.50" style="font-family:'Liberation Sans',sans-serif;font-weight:bold;font-size:6.5px" text-anchor="end" fill="#000" stroke="#000" stroke-width="0.18" >40</text>
<line x1="62.60" y1="379.80" x2="66.30" y2="379.80" stroke="#222" stroke-width="0.9" />
<text x="61.10" y="380.90" style="font-family:'Liberation Sans',sans-serif;font-weight:bold;font-size:6.5px" text-anchor="end" fill="#000" stroke="#000" stroke-width="0.18" >60</text>
<line x1="62.60" y1="358.20" x2="66.30" y2="358.20" stroke="#222" stroke-width="0.9" />
<text x="61.10" y="359.30" style="font-family:'Liberation Sans',sans-serif;font-weight:bold;font-size:6.5px" text-anchor="end" fill="#000" stroke="#000" stroke-width="0.18" >80</text>
<line x1="75.00" y1="444.60" x2="75.00" y2="448.00" stroke="#222" stroke-width="0.9" />
<text x="75.00" y="455.40" style="font-family:'Liberation Sans',sans-serif;font-weight:bold;font-size:6.7px" text-anchor="middle" fill="#000" stroke="#000" stroke-width="0.18" >1</text>
<line x1="93.15" y1="444.60" x2="93.15" y2="448.00" stroke="#222" stroke-width="0.9" />
<text x="93.15" y="455.40" style="font-family:'Liberation Sans',sans-serif;font-weight:bold;font-size:6.7px" text-anchor="middle" fill="#000" stroke="#000" stroke-width="0.18" >2</text>
<line x1="111.30" y1="444.60" x2="111.30" y2="448.00" stroke="#222" stroke-width="0.9" />
<text x="111.30" y="455.40" style="font-family:'Liberation Sans',sans-serif;font-weight:bold;font-size:6.7px" text-anchor="middle" fill="#000" stroke="#000" stroke-width="0.18" >3</text>
<line x1="129.45" y1="444.60" x2="129.45" y2="448.00" stroke="#222" stroke-width="0.9" />
<text x="129.45" y="455.40" style="font-family:'Liberation Sans',sans-serif;font-weight:bold;font-size:6.7px" text-anchor="middle" fill="#000" stroke="#000" stroke-width="0.18" >4</text>
<line x1="147.60" y1="444.60" x2="147.60" y2="448.00" stroke="#222" stroke-width="0.9" />
<text x="147.60" y="455.40" style="font-family:'Liberation Sans',sans-serif;font-weight:bold;font-size:6.7px" text-anchor="middle" fill="#000" stroke="#000" stroke-width="0.18" >5</text>
<line x1="165.75" y1="444.60" x2="165.75" y2="448.00" stroke="#222" stroke-width="0.9" />
<text x="165.75" y="455.40" style="font-family:'Liberation Sans',sans-serif;font-weight:bold;font-size:6.7px" text-anchor="middle" fill="#000" stroke="#000" stroke-width="0.18" >6</text>
<text x="120.90" y="465.60" style="font-family:'Liberation Serif',serif;font-weight:bold;font-size:6.85px" text-anchor="middle" fill="#000" stroke="#000" stroke-width="0.18" >Individual mouse</text>
<text x="0.00" y="0.00" style="font-family:'Liberation Serif',serif;font-weight:bold;font-size:7.1px" text-anchor="middle" fill="#000" stroke="#000" stroke-width="0.18" transform="translate(50.3,400.6) rotate(-90)">Heteroplasmy (%)</text>
<circle cx="75.00" cy="377.64" r="1.75" fill="#000"/>
<circle cx="93.15" cy="410.58" r="1.75" fill="#000"/>
<circle cx="111.30" cy="410.58" r="1.75" fill="#000"/>
<circle cx="129.45" cy="405.72" r="1.75" fill="#000"/>
<circle cx="147.60" cy="389.52" r="1.75" fill="#000"/>
<circle cx="165.75" cy="396.00" r="1.75" fill="#000"/>
<polygon points="75.00,376.12 77.50,378.72 75.00,381.32 72.50,378.72" fill="#ff0a0a"/>
<polygon points="93.15,411.76 95.65,414.36 93.15,416.96 90.65,414.36" fill="#ff0a0a"/>
<polygon points="111.30,406.36 113.80,408.96 111.30,411.56 108.80,408.96" fill="#ff0a0a"/>
<polygon points="129.45,395.02 131.95,397.62 129.45,400.22 126.95,397.62" fill="#ff0a0a"/>
<polygon points="147.60,381.52 150.10,384.12 147.60,386.72 145.10,384.12" fill="#ff0a0a"/>
<polygon points="165.75,391.24 168.25,393.84 165.75,396.44 163.25,393.84" fill="#ff0a0a"/>
<polygon points="184.5,373.9 187.0,376.5 184.5,379.1 182.0,376.5" fill="#ff0a0a"/>
<circle cx="184.5" cy="388.3" r="1.75" fill="#000"/>
<text x="194.50" y="379.00" style="font-family:'Liberation Serif',serif;font-weight:bold;font-size:6.3px" text-anchor="start" fill="#000" stroke="#000" stroke-width="0.18" >2 weeks</text>
<text x="194.50" y="390.80" style="font-family:'Liberation Serif',serif;font-weight:bold;font-size:6.3px" text-anchor="start" fill="#000" stroke="#000" stroke-width="0.18" >21-34 weeks</text>
<text transform="translate(280.00,11.60) scale(0.93,1)" style="font-family:'Liberation Sans',sans-serif;font-weight:bold;font-size:16.4px" fill="#000">D</text>
<text x="409.00" y="14.00" style="font-family:'Liberation Sans',sans-serif;font-weight:bold;font-size:6.47px" text-anchor="middle" fill="#000" stroke="#000" stroke-width="0.18" >Maternal vs. Offspring Heteroplasmy (C57 mtDNA)</text>
<line x1="317.20" y1="22.30" x2="317.20" y2="89.80" stroke="#111" stroke-width="1.2" />
<line x1="317.20" y1="89.20" x2="501.10" y2="89.20" stroke="#111" stroke-width="1.2" />
<line x1="314.40" y1="89.20" x2="317.20" y2="89.20" stroke="#111" stroke-width="1.1" />
<text x="313.60" y="91.10" style="font-family:'Liberation Sans',sans-serif;font-weight:bold;font-size:5.2px" text-anchor="end" fill="#000" stroke="#000" stroke-width="0.18" >0</text>
<line x1="317.20" y1="89.20" x2="317.20" y2="92.00" stroke="#111" stroke-width="1.1" />
<text x="317.20" y="97.80" style="font-family:'Liberation Sans',sans-serif;font-weight:bold;font-size:5.3px" text-anchor="middle" fill="#000" stroke="#000" stroke-width="0.18" >0</text>
<line x1="314.40" y1="75.82" x2="317.20" y2="75.82" stroke="#111" stroke-width="1.1" />
<text x="313.60" y="77.72" style="font-family:'Liberation Sans',sans-serif;font-weight:bold;font-size:5.2px" text-anchor="end" fill="#000" stroke="#000" stroke-width="0.18" >20</text>
<line x1="353.86" y1="89.20" x2="353.86" y2="92.00" stroke="#111" stroke-width="1.1" />
<text x="353.86" y="97.80" style="font-family:'Liberation Sans',sans-serif;font-weight:bold;font-size:5.3px" text-anchor="middle" fill="#000" stroke="#000" stroke-width="0.18" >20</text>
<line x1="314.40" y1="62.44" x2="317.20" y2="62.44" stroke="#111" stroke-width="1.1" />
<text x="313.60" y="64.34" style="font-family:'Liberation Sans',sans-serif;font-weight:bold;font-size:5.2px" text-anchor="end" fill="#000" stroke="#000" stroke-width="0.18" >40</text>
<line x1="390.52" y1="89.20" x2="390.52" y2="92.00" stroke="#111" stroke-width="1.1" />
<text x="390.52" y="97.80" style="font-family:'Liberation Sans',sans-serif;font-weight:bold;font-size:5.3px" text-anchor="middle" fill="#000" stroke="#000" stroke-width="0.18" >40</text>
<line x1="314.40" y1="49.06" x2="317.20" y2="49.06" stroke="#111" stroke-width="1.1" />
<text x="313.60" y="50.96" style="font-family:'Liberation Sans',sans-serif;font-weight:bold;font-size:5.2px" text-anchor="end" fill="#000" stroke="#000" stroke-width="0.18" >60</text>
<line x1="427.18" y1="89.20" x2="427.18" y2="92.00" stroke="#111" stroke-width="1.1" />
<text x="427.18" y="97.80" style="font-family:'Liberation Sans',sans-serif;font-weight:bold;font-size:5.3px" text-anchor="middle" fill="#000" stroke="#000" stroke-width="0.18" >60</text>
<line x1="314.40" y1="35.68" x2="317.20" y2="35.68" stroke="#111" stroke-width="1.1" />
<text x="313.60" y="37.58" style="font-family:'Liberation Sans',sans-serif;font-weight:bold;font-size:5.2px" text-anchor="end" fill="#000" stroke="#000" stroke-width="0.18" >80</text>
<line x1="463.84" y1="89.20" x2="463.84" y2="92.00" stroke="#111" stroke-width="1.1" />
<text x="463.84" y="97.80" style="font-family:'Liberation Sans',sans-serif;font-weight:bold;font-size:5.3px" text-anchor="middle" fill="#000" stroke="#000" stroke-width="0.18" >80</text>
<line x1="314.40" y1="22.30" x2="317.20" y2="22.30" stroke="#111" stroke-width="1.1" />
<text x="313.60" y="24.20" style="font-family:'Liberation Sans',sans-serif;font-weight:bold;font-size:5.2px" text-anchor="end" fill="#000" stroke="#000" stroke-width="0.18" >100</text>
<line x1="500.50" y1="89.20" x2="500.50" y2="92.00" stroke="#111" stroke-width="1.1" />
<text x="500.50" y="97.80" style="font-family:'Liberation Sans',sans-serif;font-weight:bold;font-size:5.3px" text-anchor="middle" fill="#000" stroke="#000" stroke-width="0.18" >100</text>
<line x1="315.60" y1="82.51" x2="317.20" y2="82.51" stroke="#111" stroke-width="0.8" />
<line x1="335.53" y1="89.20" x2="335.53" y2="90.80" stroke="#111" stroke-width="0.8" />
<line x1="315.60" y1="69.13" x2="317.20" y2="69.13" stroke="#111" stroke-width="0.8" />
<line x1="372.19" y1="89.20" x2="372.19" y2="90.80" stroke="#111" stroke-width="0.8" />
<line x1="315.60" y1="55.75" x2="317.20" y2="55.75" stroke="#111" stroke-width="0.8" />
<line x1="408.85" y1="89.20" x2="408.85" y2="90.80" stroke="#111" stroke-width="0.8" />
<line x1="315.60" y1="42.37" x2="317.20" y2="42.37" stroke="#111" stroke-width="0.8" />
<line x1="445.51" y1="89.20" x2="445.51" y2="90.80" stroke="#111" stroke-width="0.8" />
<line x1="315.60" y1="28.99" x2="317.20" y2="28.99" stroke="#111" stroke-width="0.8" />
<line x1="482.17" y1="89.20" x2="482.17" y2="90.80" stroke="#111" stroke-width="0.8" />
<text x="408.40" y="106.30" style="font-family:'Liberation Sans',sans-serif;font-weight:bold;font-size:5.6px" text-anchor="middle" fill="#000" stroke="#000" stroke-width="0.18" >Maternal heteroplasmy</text>
<text x="0.00" y="0.00" style="font-family:'Liberation Sans',sans-serif;font-weight:bold;font-size:5.45px" text-anchor="middle" fill="#000" stroke="#000" stroke-width="0.18" transform="translate(301.1,55.3) rotate(-90)">Offspring Heteroplasmy</text>
<line x1="317.20" y1="89.20" x2="500.50" y2="22.30" stroke="#555" stroke-width="0.8" />
<circle cx="328.40" cy="63.51" r="1.08" fill="#ff1010"/>
<circle cx="328.40" cy="64.78" r="1.08" fill="#ff1010"/>
<circle cx="328.40" cy="65.92" r="1.08" fill="#ff1010"/>
<circle cx="328.40" cy="67.32" r="1.08" fill="#ff1010"/>
<circle cx="328.40" cy="70.40" r="1.08" fill="#ff1010"/>
<circle cx="328.40" cy="78.63" r="1.08" fill="#ff1010"/>
<circle cx="343.60" cy="67.59" r="1.08" fill="#ff1010"/>
<circle cx="343.60" cy="72.81" r="1.08" fill="#ff1010"/>
<circle cx="343.60" cy="83.18" r="1.08" fill="#ff1010"/>
<circle cx="343.60" cy="84.38" r="1.08" fill="#ff1010"/>
<circle cx="343.60" cy="85.59" r="1.08" fill="#ff1010"/>
<circle cx="354.10" cy="72.81" r="1.08" fill="#ff1010"/>
<circle cx="354.10" cy="74.08" r="1.08" fill="#ff1010"/>
<circle cx="354.10" cy="85.59" r="1.08" fill="#ff1010"/>
<circle cx="382.80" cy="48.73" r="1.08" fill="#ff1010"/>
<circle cx="382.80" cy="51.80" r="1.08" fill="#ff1010"/>
<circle cx="382.80" cy="55.42" r="1.08" fill="#ff1010"/>
<circle cx="382.80" cy="59.70" r="1.08" fill="#ff1010"/>
<circle cx="382.80" cy="60.77" r="1.08" fill="#ff1010"/>
<circle cx="382.80" cy="63.78" r="1.08" fill="#ff1010"/>
<circle cx="382.80" cy="64.98" r="1.08" fill="#ff1010"/>
<circle cx="382.80" cy="69.73" r="1.08" fill="#ff1010"/>
<circle cx="387.10" cy="55.42" r="1.08" fill="#ff1010"/>
<circle cx="387.10" cy="61.77" r="1.08" fill="#ff1010"/>
<circle cx="387.10" cy="64.98" r="1.08" fill="#ff1010"/>
<circle cx="387.10" cy="70.40" r="1.08" fill="#ff1010"/>
<circle cx="391.30" cy="52.41" r="1.08" fill="#ff1010"/>
<circle cx="391.30" cy="53.48" r="1.08" fill="#ff1010"/>
<circle cx="391.30" cy="60.97" r="1.08" fill="#ff1010"/>
<circle cx="391.30" cy="69.13" r="1.08" fill="#ff1010"/>
<circle cx="391.30" cy="72.61" r="1.08" fill="#ff1010"/>
<circle cx="399.70" cy="43.77" r="1.08" fill="#ff1010"/>
<circle cx="399.70" cy="57.76" r="1.08" fill="#ff1010"/>
<circle cx="402.60" cy="51.07" r="1.08" fill="#ff1010"/>
<circle cx="402.60" cy="61.77" r="1.08" fill="#ff1010"/>
<circle cx="402.60" cy="79.50" r="1.08" fill="#ff1010"/>
<circle cx="404.50" cy="50.93" r="1.08" fill="#ff1010"/>
<circle cx="404.50" cy="52.41" r="1.08" fill="#ff1010"/>
<circle cx="404.50" cy="59.50" r="1.08" fill="#ff1010"/>
<circle cx="408.90" cy="49.06" r="1.08" fill="#ff1010"/>
<circle cx="408.90" cy="50.60" r="1.08" fill="#ff1010"/>
<circle cx="408.90" cy="54.08" r="1.08" fill="#ff1010"/>
<circle cx="408.90" cy="57.76" r="1.08" fill="#ff1010"/>
<circle cx="412.10" cy="48.39" r="1.08" fill="#ff1010"/>
<circle cx="412.10" cy="54.81" r="1.08" fill="#ff1010"/>
<circle cx="412.10" cy="56.49" r="1.08" fill="#ff1010"/>
<circle cx="412.10" cy="58.09" r="1.08" fill="#ff1010"/>
<circle cx="412.10" cy="59.50" r="1.08" fill="#ff1010"/>
<circle cx="412.10" cy="61.30" r="1.08" fill="#ff1010"/>
<circle cx="412.10" cy="66.99" r="1.08" fill="#ff1010"/>
<circle cx="412.10" cy="75.22" r="1.08" fill="#ff1010"/>
<circle cx="420.90" cy="31.67" r="1.08" fill="#ff1010"/>
<circle cx="420.90" cy="33.00" r="1.08" fill="#ff1010"/>
<circle cx="420.90" cy="34.68" r="1.08" fill="#ff1010"/>
<circle cx="420.90" cy="36.01" r="1.08" fill="#ff1010"/>
<circle cx="420.90" cy="39.36" r="1.08" fill="#ff1010"/>
<circle cx="420.90" cy="40.36" r="1.08" fill="#ff1010"/>
<circle cx="420.90" cy="41.70" r="1.08" fill="#ff1010"/>
<circle cx="420.90" cy="43.04" r="1.08" fill="#ff1010"/>
<circle cx="420.90" cy="44.38" r="1.08" fill="#ff1010"/>
<circle cx="420.90" cy="45.72" r="1.08" fill="#ff1010"/>
<circle cx="420.90" cy="46.72" r="1.08" fill="#ff1010"/>
<circle cx="420.90" cy="48.06" r="1.08" fill="#ff1010"/>
<circle cx="420.90" cy="49.39" r="1.08" fill="#ff1010"/>
<circle cx="420.90" cy="50.73" r="1.08" fill="#ff1010"/>
<circle cx="420.90" cy="52.07" r="1.08" fill="#ff1010"/>
<circle cx="420.90" cy="53.41" r="1.08" fill="#ff1010"/>
<circle cx="420.90" cy="54.75" r="1.08" fill="#ff1010"/>
<circle cx="420.90" cy="56.42" r="1.08" fill="#ff1010"/>
<circle cx="420.90" cy="61.10" r="1.08" fill="#ff1010"/>
<circle cx="420.90" cy="70.13" r="1.08" fill="#ff1010"/>
<circle cx="425.70" cy="25.64" r="1.08" fill="#ff1010"/>
<circle cx="425.70" cy="26.98" r="1.08" fill="#ff1010"/>
<circle cx="425.70" cy="28.19" r="1.08" fill="#ff1010"/>
<circle cx="425.70" cy="29.46" r="1.08" fill="#ff1010"/>
<circle cx="425.70" cy="31.20" r="1.08" fill="#ff1010"/>
<circle cx="425.70" cy="33.00" r="1.08" fill="#ff1010"/>
<circle cx="425.70" cy="35.01" r="1.08" fill="#ff1010"/>
<circle cx="425.70" cy="36.35" r="1.08" fill="#ff1010"/>
<circle cx="425.70" cy="40.76" r="1.08" fill="#ff1010"/>
<circle cx="425.70" cy="42.84" r="1.08" fill="#ff1010"/>
<circle cx="425.70" cy="44.71" r="1.08" fill="#ff1010"/>
<circle cx="425.70" cy="46.65" r="1.08" fill="#ff1010"/>
<circle cx="425.70" cy="48.59" r="1.08" fill="#ff1010"/>
<circle cx="425.70" cy="50.53" r="1.08" fill="#ff1010"/>
<circle cx="425.70" cy="56.08" r="1.08" fill="#ff1010"/>
<circle cx="442.60" cy="45.05" r="1.08" fill="#ff1010"/>
<circle cx="442.60" cy="48.73" r="1.08" fill="#ff1010"/>
<circle cx="442.60" cy="50.87" r="1.08" fill="#ff1010"/>
<circle cx="442.60" cy="52.67" r="1.08" fill="#ff1010"/>
<circle cx="442.60" cy="54.81" r="1.08" fill="#ff1010"/>
<circle cx="442.60" cy="61.77" r="1.08" fill="#ff1010"/>
<circle cx="457.90" cy="22.30" r="1.08" fill="#ff1010"/>
<circle cx="457.90" cy="23.30" r="1.08" fill="#ff1010"/>
<circle cx="457.90" cy="24.31" r="1.08" fill="#ff1010"/>
<circle cx="457.90" cy="25.31" r="1.08" fill="#ff1010"/>
<circle cx="457.90" cy="28.99" r="1.08" fill="#ff1010"/>
<circle cx="457.90" cy="37.69" r="1.08" fill="#ff1010"/>
<circle cx="457.90" cy="39.03" r="1.08" fill="#ff1010"/>
<circle cx="457.90" cy="40.36" r="1.08" fill="#ff1010"/>
<circle cx="457.90" cy="44.04" r="1.08" fill="#ff1010"/>
<circle cx="457.90" cy="48.06" r="1.08" fill="#ff1010"/>
<circle cx="457.90" cy="49.39" r="1.08" fill="#ff1010"/>
<circle cx="457.90" cy="50.73" r="1.08" fill="#ff1010"/>
<circle cx="457.90" cy="52.07" r="1.08" fill="#ff1010"/>
<circle cx="457.90" cy="53.07" r="1.08" fill="#ff1010"/>
<circle cx="457.90" cy="59.43" r="1.08" fill="#ff1010"/>
<circle cx="457.90" cy="63.44" r="1.08" fill="#ff1010"/>
<circle cx="457.90" cy="64.78" r="1.08" fill="#ff1010"/>
<circle cx="469.40" cy="51.74" r="1.08" fill="#ff1010"/>
<circle cx="469.40" cy="54.41" r="1.08" fill="#ff1010"/>
<circle cx="469.40" cy="56.75" r="1.08" fill="#ff1010"/>
<circle cx="469.40" cy="59.09" r="1.08" fill="#ff1010"/>
<circle cx="469.40" cy="62.11" r="1.08" fill="#ff1010"/>
<circle cx="469.40" cy="64.78" r="1.08" fill="#ff1010"/>
<circle cx="469.40" cy="67.46" r="1.08" fill="#ff1010"/>
<circle cx="469.40" cy="69.80" r="1.08" fill="#ff1010"/>
<text transform="translate(280.30,150.00) scale(0.93,1)" style="font-family:'Liberation Sans',sans-serif;font-weight:bold;font-size:16.4px" fill="#000">E</text>
<text x="410.80" y="161.10" style="font-family:'Liberation Sans',sans-serif;font-weight:bold;font-size:5.82px" text-anchor="middle" fill="#000" stroke="#000" stroke-width="0.18" >Change in heteroplasmy from mother to offspring</text>
<line x1="304.50" y1="174.60" x2="304.50" y2="234.70" stroke="#111" stroke-width="1.1" />
<line x1="304.50" y1="234.20" x2="517.50" y2="234.20" stroke="#111" stroke-width="1.1" />
<line x1="302.20" y1="204.30" x2="304.50" y2="204.30" stroke="#111" stroke-width="1.0" />
<line x1="304.45" y1="234.20" x2="304.45" y2="236.90" stroke="#111" stroke-width="1.0" />
<text x="304.45" y="241.80" style="font-family:'Liberation Sans',sans-serif;font-weight:bold;font-size:4.9px" text-anchor="middle" fill="#000" stroke="#000" stroke-width="0.18" >-60</text>
<line x1="322.14" y1="234.20" x2="322.14" y2="236.90" stroke="#111" stroke-width="1.0" />
<text x="322.14" y="241.80" style="font-family:'Liberation Sans',sans-serif;font-weight:bold;font-size:4.9px" text-anchor="middle" fill="#000" stroke="#000" stroke-width="0.18" >-50</text>
<line x1="339.83" y1="234.20" x2="339.83" y2="236.90" stroke="#111" stroke-width="1.0" />
<text x="339.83" y="241.80" style="font-family:'Liberation Sans',sans-serif;font-weight:bold;font-size:4.9px" text-anchor="middle" fill="#000" stroke="#000" stroke-width="0.18" >-40</text>
<line x1="357.53" y1="234.20" x2="357.53" y2="236.90" stroke="#111" stroke-width="1.0" />
<text x="357.53" y="241.80" style="font-family:'Liberation Sans',sans-serif;font-weight:bold;font-size:4.9px" text-anchor="middle" fill="#000" stroke="#000" stroke-width="0.18" >-30</text>
<line x1="375.22" y1="234.20" x2="375.22" y2="236.90" stroke="#111" stroke-width="1.0" />
<text x="375.22" y="241.80" style="font-family:'Liberation Sans',sans-serif;font-weight:bold;font-size:4.9px" text-anchor="middle" fill="#000" stroke="#000" stroke-width="0.18" >-20</text>
<line x1="392.91" y1="234.20" x2="392.91" y2="236.90" stroke="#111" stroke-width="1.0" />
<text x="392.91" y="241.80" style="font-family:'Liberation Sans',sans-serif;font-weight:bold;font-size:4.9px" text-anchor="middle" fill="#000" stroke="#000" stroke-width="0.18" >-10</text>
<line x1="410.60" y1="234.20" x2="410.60" y2="236.90" stroke="#111" stroke-width="1.0" />
<text x="410.60" y="241.80" style="font-family:'Liberation Sans',sans-serif;font-weight:bold;font-size:4.9px" text-anchor="middle" fill="#000" stroke="#000" stroke-width="0.18" >0</text>
<line x1="428.29" y1="234.20" x2="428.29" y2="236.90" stroke="#111" stroke-width="1.0" />
<text x="428.29" y="241.80" style="font-family:'Liberation Sans',sans-serif;font-weight:bold;font-size:4.9px" text-anchor="middle" fill="#000" stroke="#000" stroke-width="0.18" >10</text>
<line x1="445.98" y1="234.20" x2="445.98" y2="236.90" stroke="#111" stroke-width="1.0" />
<text x="445.98" y="241.80" style="font-family:'Liberation Sans',sans-serif;font-weight:bold;font-size:4.9px" text-anchor="middle" fill="#000" stroke="#000" stroke-width="0.18" >20</text>
<line x1="463.68" y1="234.20" x2="463.68" y2="236.90" stroke="#111" stroke-width="1.0" />
<text x="463.68" y="241.80" style="font-family:'Liberation Sans',sans-serif;font-weight:bold;font-size:4.9px" text-anchor="middle" fill="#000" stroke="#000" stroke-width="0.18" >30</text>
<line x1="481.37" y1="234.20" x2="481.37" y2="236.90" stroke="#111" stroke-width="1.0" />
<text x="481.37" y="241.80" style="font-family:'Liberation Sans',sans-serif;font-weight:bold;font-size:4.9px" text-anchor="middle" fill="#000" stroke="#000" stroke-width="0.18" >40</text>
<line x1="499.06" y1="234.20" x2="499.06" y2="236.90" stroke="#111" stroke-width="1.0" />
<text x="499.06" y="241.80" style="font-family:'Liberation Sans',sans-serif;font-weight:bold;font-size:4.9px" text-anchor="middle" fill="#000" stroke="#000" stroke-width="0.18" >50</text>
<line x1="516.75" y1="234.20" x2="516.75" y2="236.90" stroke="#111" stroke-width="1.0" />
<text x="516.75" y="241.80" style="font-family:'Liberation Sans',sans-serif;font-weight:bold;font-size:4.9px" text-anchor="middle" fill="#000" stroke="#000" stroke-width="0.18" >60</text>
<text x="408.20" y="256.70" style="font-family:'Liberation Sans',sans-serif;font-weight:bold;font-size:5.27px" text-anchor="middle" fill="#000" stroke="#000" stroke-width="0.18" >Change in heteroplasmy from mother to offspring (%)</text>
<line x1="376.63" y1="204.30" x2="444.57" y2="204.30" stroke="#222" stroke-width="0.8" />
<line x1="410.60" y1="174.80" x2="410.60" y2="233.70" stroke="#111" stroke-width="1.1" />
<line x1="410.60" y1="190.20" x2="410.60" y2="218.80" stroke="#111" stroke-width="1.8" />
<line x1="376.63" y1="197.20" x2="376.63" y2="211.60" stroke="#222" stroke-width="0.8" />
<line x1="444.57" y1="197.20" x2="444.57" y2="211.60" stroke="#222" stroke-width="0.8" />
<circle cx="313.21" cy="204.30" r="1.1" fill="#ff1a1a"/>
<circle cx="315.17" cy="202.00" r="1.1" fill="#ff1a1a"/>
<circle cx="324.66" cy="204.30" r="1.1" fill="#ff1a1a"/>
<circle cx="329.16" cy="204.30" r="1.1" fill="#ff1a1a"/>
<circle cx="334.54" cy="204.30" r="1.1" fill="#ff1a1a"/>
<circle cx="338.22" cy="204.30" r="1.1" fill="#ff1a1a"/>
<circle cx="339.28" cy="202.00" r="1.1" fill="#ff1a1a"/>
<circle cx="343.39" cy="204.30" r="1.1" fill="#ff1a1a"/>
<circle cx="343.60" cy="202.00" r="1.1" fill="#ff1a1a"/>
<circle cx="345.66" cy="206.60" r="1.1" fill="#ff1a1a"/>
<circle cx="346.19" cy="204.30" r="1.1" fill="#ff1a1a"/>
<circle cx="348.33" cy="202.00" r="1.1" fill="#ff1a1a"/>
<circle cx="349.72" cy="204.30" r="1.1" fill="#ff1a1a"/>
<circle cx="352.56" cy="204.30" r="1.1" fill="#ff1a1a"/>
<circle cx="352.77" cy="202.00" r="1.1" fill="#ff1a1a"/>
<circle cx="353.18" cy="206.60" r="1.1" fill="#ff1a1a"/>
<circle cx="354.81" cy="199.70" r="1.1" fill="#ff1a1a"/>
<circle cx="354.84" cy="208.90" r="1.1" fill="#ff1a1a"/>
<circle cx="356.03" cy="204.30" r="1.1" fill="#ff1a1a"/>
<circle cx="360.46" cy="204.30" r="1.1" fill="#ff1a1a"/>
<circle cx="361.27" cy="202.00" r="1.1" fill="#ff1a1a"/>
<circle cx="361.97" cy="206.60" r="1.1" fill="#ff1a1a"/>
<circle cx="368.19" cy="204.30" r="1.1" fill="#ff1a1a"/>
<circle cx="372.67" cy="204.30" r="1.1" fill="#ff1a1a"/>
<circle cx="374.67" cy="202.00" r="1.1" fill="#ff1a1a"/>
<circle cx="374.76" cy="206.60" r="1.1" fill="#ff1a1a"/>
<circle cx="376.15" cy="204.30" r="1.1" fill="#ff1a1a"/>
<circle cx="378.69" cy="204.30" r="1.1" fill="#ff1a1a"/>
<circle cx="380.42" cy="202.00" r="1.1" fill="#ff1a1a"/>
<circle cx="382.29" cy="204.30" r="1.1" fill="#ff1a1a"/>
<circle cx="382.33" cy="206.60" r="1.1" fill="#ff1a1a"/>
<circle cx="382.54" cy="199.70" r="1.1" fill="#ff1a1a"/>
<circle cx="382.90" cy="202.00" r="1.1" fill="#ff1a1a"/>
<circle cx="384.35" cy="208.90" r="1.1" fill="#ff1a1a"/>
<circle cx="385.76" cy="204.30" r="1.1" fill="#ff1a1a"/>
<circle cx="388.98" cy="204.30" r="1.1" fill="#ff1a1a"/>
<circle cx="391.74" cy="204.30" r="1.1" fill="#ff1a1a"/>
<circle cx="392.02" cy="202.00" r="1.1" fill="#ff1a1a"/>
<circle cx="392.02" cy="206.60" r="1.1" fill="#ff1a1a"/>
<circle cx="392.43" cy="199.70" r="1.1" fill="#ff1a1a"/>
<circle cx="392.58" cy="208.90" r="1.1" fill="#ff1a1a"/>
<circle cx="393.28" cy="197.40" r="1.1" fill="#ff1a1a"/>
<circle cx="393.92" cy="211.20" r="1.1" fill="#ff1a1a"/>
<circle cx="394.30" cy="204.30" r="1.1" fill="#ff1a1a"/>
<circle cx="395.15" cy="202.00" r="1.1" fill="#ff1a1a"/>
<circle cx="396.25" cy="206.60" r="1.1" fill="#ff1a1a"/>
<circle cx="396.27" cy="199.70" r="1.1" fill="#ff1a1a"/>
<circle cx="397.06" cy="204.30" r="1.1" fill="#ff1a1a"/>
<circle cx="397.33" cy="208.90" r="1.1" fill="#ff1a1a"/>
<circle cx="398.83" cy="202.00" r="1.1" fill="#ff1a1a"/>
<circle cx="399.03" cy="206.60" r="1.1" fill="#ff1a1a"/>
<circle cx="399.47" cy="199.70" r="1.1" fill="#ff1a1a"/>
<circle cx="399.93" cy="204.30" r="1.1" fill="#ff1a1a"/>
<circle cx="400.71" cy="208.90" r="1.1" fill="#ff1a1a"/>
<circle cx="400.83" cy="197.40" r="1.1" fill="#ff1a1a"/>
<circle cx="401.00" cy="211.20" r="1.1" fill="#ff1a1a"/>
<circle cx="401.57" cy="202.00" r="1.1" fill="#ff1a1a"/>
<circle cx="401.98" cy="206.60" r="1.1" fill="#ff1a1a"/>
<circle cx="404.02" cy="204.30" r="1.1" fill="#ff1a1a"/>
<circle cx="404.56" cy="202.00" r="1.1" fill="#ff1a1a"/>
<circle cx="404.89" cy="206.60" r="1.1" fill="#ff1a1a"/>
<circle cx="405.00" cy="199.70" r="1.1" fill="#ff1a1a"/>
<circle cx="406.28" cy="208.90" r="1.1" fill="#ff1a1a"/>
<circle cx="406.36" cy="197.40" r="1.1" fill="#ff1a1a"/>
<circle cx="406.39" cy="211.20" r="1.1" fill="#ff1a1a"/>
<circle cx="406.61" cy="204.30" r="1.1" fill="#ff1a1a"/>
<circle cx="407.52" cy="202.00" r="1.1" fill="#ff1a1a"/>
<circle cx="407.59" cy="206.60" r="1.1" fill="#ff1a1a"/>
<circle cx="407.88" cy="199.70" r="1.1" fill="#ff1a1a"/>
<circle cx="408.26" cy="195.10" r="1.1" fill="#ff1a1a"/>
<circle cx="408.94" cy="208.90" r="1.1" fill="#ff1a1a"/>
<circle cx="410.05" cy="204.30" r="1.1" fill="#ff1a1a"/>
<circle cx="410.51" cy="202.00" r="1.1" fill="#ff1a1a"/>
<circle cx="412.78" cy="204.30" r="1.1" fill="#ff1a1a"/>
<circle cx="413.46" cy="202.00" r="1.1" fill="#ff1a1a"/>
<circle cx="413.49" cy="206.60" r="1.1" fill="#ff1a1a"/>
<circle cx="413.63" cy="199.70" r="1.1" fill="#ff1a1a"/>
<circle cx="413.73" cy="208.90" r="1.1" fill="#ff1a1a"/>
<circle cx="413.79" cy="197.40" r="1.1" fill="#ff1a1a"/>
<circle cx="414.00" cy="211.20" r="1.1" fill="#ff1a1a"/>
<circle cx="414.39" cy="195.10" r="1.1" fill="#ff1a1a"/>
<circle cx="414.68" cy="213.50" r="1.1" fill="#ff1a1a"/>
<circle cx="414.97" cy="192.80" r="1.1" fill="#ff1a1a"/>
<circle cx="415.40" cy="204.30" r="1.1" fill="#ff1a1a"/>
<circle cx="415.72" cy="215.80" r="1.1" fill="#ff1a1a"/>
<circle cx="416.59" cy="202.00" r="1.1" fill="#ff1a1a"/>
<circle cx="416.97" cy="206.60" r="1.1" fill="#ff1a1a"/>
<circle cx="417.93" cy="204.30" r="1.1" fill="#ff1a1a"/>
<circle cx="418.30" cy="199.70" r="1.1" fill="#ff1a1a"/>
<circle cx="418.94" cy="208.90" r="1.1" fill="#ff1a1a"/>
<circle cx="420.31" cy="202.00" r="1.1" fill="#ff1a1a"/>
<circle cx="420.79" cy="204.30" r="1.1" fill="#ff1a1a"/>
<circle cx="420.85" cy="206.60" r="1.1" fill="#ff1a1a"/>
<circle cx="420.91" cy="199.70" r="1.1" fill="#ff1a1a"/>
<circle cx="421.70" cy="208.90" r="1.1" fill="#ff1a1a"/>
<circle cx="422.23" cy="197.40" r="1.1" fill="#ff1a1a"/>
<circle cx="422.26" cy="211.20" r="1.1" fill="#ff1a1a"/>
<circle cx="422.53" cy="195.10" r="1.1" fill="#ff1a1a"/>
<circle cx="423.13" cy="202.00" r="1.1" fill="#ff1a1a"/>
<circle cx="424.53" cy="204.30" r="1.1" fill="#ff1a1a"/>
<circle cx="424.67" cy="206.60" r="1.1" fill="#ff1a1a"/>
<circle cx="424.93" cy="199.70" r="1.1" fill="#ff1a1a"/>
<circle cx="425.57" cy="208.90" r="1.1" fill="#ff1a1a"/>
<circle cx="425.91" cy="202.00" r="1.1" fill="#ff1a1a"/>
<circle cx="425.96" cy="197.40" r="1.1" fill="#ff1a1a"/>
<circle cx="426.49" cy="211.20" r="1.1" fill="#ff1a1a"/>
<circle cx="426.65" cy="195.10" r="1.1" fill="#ff1a1a"/>
<circle cx="427.17" cy="204.30" r="1.1" fill="#ff1a1a"/>
<circle cx="427.74" cy="206.60" r="1.1" fill="#ff1a1a"/>
<circle cx="427.85" cy="199.70" r="1.1" fill="#ff1a1a"/>
<circle cx="428.72" cy="202.00" r="1.1" fill="#ff1a1a"/>
<circle cx="428.85" cy="208.90" r="1.1" fill="#ff1a1a"/>
<circle cx="429.01" cy="197.40" r="1.1" fill="#ff1a1a"/>
<circle cx="429.07" cy="211.20" r="1.1" fill="#ff1a1a"/>
<circle cx="429.52" cy="195.10" r="1.1" fill="#ff1a1a"/>
<circle cx="431.01" cy="204.30" r="1.1" fill="#ff1a1a"/>
<circle cx="431.13" cy="206.60" r="1.1" fill="#ff1a1a"/>
<circle cx="431.37" cy="202.00" r="1.1" fill="#ff1a1a"/>
<circle cx="431.69" cy="199.70" r="1.1" fill="#ff1a1a"/>
<circle cx="432.01" cy="208.90" r="1.1" fill="#ff1a1a"/>
<circle cx="432.19" cy="197.40" r="1.1" fill="#ff1a1a"/>
<circle cx="432.51" cy="211.20" r="1.1" fill="#ff1a1a"/>
<circle cx="432.63" cy="195.10" r="1.1" fill="#ff1a1a"/>
<circle cx="432.65" cy="213.50" r="1.1" fill="#ff1a1a"/>
<circle cx="432.84" cy="192.80" r="1.1" fill="#ff1a1a"/>
<circle cx="433.02" cy="215.80" r="1.1" fill="#ff1a1a"/>
<circle cx="433.12" cy="190.50" r="1.1" fill="#ff1a1a"/>
<circle cx="433.17" cy="218.10" r="1.1" fill="#ff1a1a"/>
<circle cx="433.23" cy="188.20" r="1.1" fill="#ff1a1a"/>
<circle cx="433.70" cy="204.30" r="1.1" fill="#ff1a1a"/>
<circle cx="433.77" cy="206.60" r="1.1" fill="#ff1a1a"/>
<circle cx="433.99" cy="202.00" r="1.1" fill="#ff1a1a"/>
<circle cx="434.17" cy="199.70" r="1.1" fill="#ff1a1a"/>
<circle cx="434.22" cy="220.40" r="1.1" fill="#ff1a1a"/>
<circle cx="434.98" cy="208.90" r="1.1" fill="#ff1a1a"/>
<circle cx="435.57" cy="197.40" r="1.1" fill="#ff1a1a"/>
<circle cx="436.61" cy="204.30" r="1.1" fill="#ff1a1a"/>
<circle cx="437.88" cy="202.00" r="1.1" fill="#ff1a1a"/>
<circle cx="438.05" cy="206.60" r="1.1" fill="#ff1a1a"/>
<circle cx="438.50" cy="199.70" r="1.1" fill="#ff1a1a"/>
<circle cx="439.90" cy="204.30" r="1.1" fill="#ff1a1a"/>
<circle cx="440.58" cy="202.00" r="1.1" fill="#ff1a1a"/>
<circle cx="441.87" cy="206.60" r="1.1" fill="#ff1a1a"/>
<circle cx="442.21" cy="199.70" r="1.1" fill="#ff1a1a"/>
<circle cx="444.34" cy="204.30" r="1.1" fill="#ff1a1a"/>
<circle cx="445.33" cy="202.00" r="1.1" fill="#ff1a1a"/>
<circle cx="445.74" cy="206.60" r="1.1" fill="#ff1a1a"/>
<circle cx="446.67" cy="199.70" r="1.1" fill="#ff1a1a"/>
<circle cx="448.03" cy="204.30" r="1.1" fill="#ff1a1a"/>
<circle cx="448.09" cy="202.00" r="1.1" fill="#ff1a1a"/>
<circle cx="448.60" cy="206.60" r="1.1" fill="#ff1a1a"/>
<circle cx="448.70" cy="208.90" r="1.1" fill="#ff1a1a"/>
<circle cx="448.89" cy="197.40" r="1.1" fill="#ff1a1a"/>
<circle cx="449.67" cy="199.70" r="1.1" fill="#ff1a1a"/>
<circle cx="450.44" cy="211.20" r="1.1" fill="#ff1a1a"/>
<circle cx="451.65" cy="204.30" r="1.1" fill="#ff1a1a"/>
<circle cx="452.02" cy="202.00" r="1.1" fill="#ff1a1a"/>
<circle cx="453.88" cy="206.60" r="1.1" fill="#ff1a1a"/>
<circle cx="455.75" cy="204.30" r="1.1" fill="#ff1a1a"/>
<circle cx="456.84" cy="202.00" r="1.1" fill="#ff1a1a"/>
<circle cx="458.34" cy="204.30" r="1.1" fill="#ff1a1a"/>
<circle cx="461.59" cy="204.30" r="1.1" fill="#ff1a1a"/>
<circle cx="462.31" cy="202.00" r="1.1" fill="#ff1a1a"/>
<circle cx="462.92" cy="206.60" r="1.1" fill="#ff1a1a"/>
<circle cx="464.56" cy="204.30" r="1.1" fill="#ff1a1a"/>
<circle cx="467.29" cy="204.30" r="1.1" fill="#ff1a1a"/>
<circle cx="467.63" cy="202.00" r="1.1" fill="#ff1a1a"/>
<circle cx="471.46" cy="204.30" r="1.1" fill="#ff1a1a"/>
<circle cx="474.71" cy="204.30" r="1.1" fill="#ff1a1a"/>
<line x1="477.00" y1="200.80" x2="477.00" y2="207.60" stroke="#222" stroke-width="0.7" />
<text x="479.80" y="206.20" style="font-family:'Liberation Sans',sans-serif;font-weight:bold;font-size:5.2px" text-anchor="start" fill="#000" stroke="#000" stroke-width="0.18" >3</text>
<text transform="translate(279.90,332.70) scale(0.93,1)" style="font-family:'Liberation Sans',sans-serif;font-weight:bold;font-size:16.4px" fill="#000">F</text>
<text x="410.80" y="329.10" style="font-family:'Liberation Sans',sans-serif;font-weight:bold;font-size:6.6px" text-anchor="middle" fill="#000" stroke="#000" stroke-width="0.18" >Frequency distribution</text>
<rect x="315.52" y="419.00" width="1.73" height="5.90" fill="#ff2a2a" stroke="#ff9a9a" stroke-width="0.3"/>
<rect x="317.25" y="419.00" width="1.73" height="5.90" fill="#ff2a2a" stroke="#ff9a9a" stroke-width="0.3"/>
<rect x="325.88" y="419.00" width="1.73" height="5.90" fill="#ff2a2a" stroke="#ff9a9a" stroke-width="0.3"/>
<rect x="331.05" y="419.00" width="1.73" height="5.90" fill="#ff2a2a" stroke="#ff9a9a" stroke-width="0.3"/>
<rect x="336.23" y="419.00" width="1.73" height="5.90" fill="#ff2a2a" stroke="#ff9a9a" stroke-width="0.3"/>
<rect x="339.68" y="419.00" width="1.73" height="5.90" fill="#ff2a2a" stroke="#ff9a9a" stroke-width="0.3"/>
<rect x="341.41" y="419.00" width="1.73" height="5.90" fill="#ff2a2a" stroke="#ff9a9a" stroke-width="0.3"/>
<rect x="344.86" y="413.10" width="1.73" height="11.80" fill="#ff2a2a" stroke="#ff9a9a" stroke-width="0.3"/>
<rect x="346.59" y="419.00" width="1.73" height="5.90" fill="#ff2a2a" stroke="#ff9a9a" stroke-width="0.3"/>
<rect x="348.31" y="419.00" width="1.73" height="5.90" fill="#ff2a2a" stroke="#ff9a9a" stroke-width="0.3"/>
<rect x="350.04" y="419.00" width="1.73" height="5.90" fill="#ff2a2a" stroke="#ff9a9a" stroke-width="0.3"/>
<rect x="351.76" y="419.00" width="1.73" height="5.90" fill="#ff2a2a" stroke="#ff9a9a" stroke-width="0.3"/>
<rect x="353.49" y="413.10" width="1.73" height="11.80" fill="#ff2a2a" stroke="#ff9a9a" stroke-width="0.3"/>
<rect x="355.21" y="407.20" width="1.73" height="17.70" fill="#ff2a2a" stroke="#ff9a9a" stroke-width="0.3"/>
<rect x="356.94" y="419.00" width="1.73" height="5.90" fill="#ff2a2a" stroke="#ff9a9a" stroke-width="0.3"/>
<rect x="362.12" y="413.10" width="1.73" height="11.80" fill="#ff2a2a" stroke="#ff9a9a" stroke-width="0.3"/>
<rect x="363.84" y="419.00" width="1.73" height="5.90" fill="#ff2a2a" stroke="#ff9a9a" stroke-width="0.3"/>
<rect x="369.02" y="419.00" width="1.73" height="5.90" fill="#ff2a2a" stroke="#ff9a9a" stroke-width="0.3"/>
<rect x="374.20" y="419.00" width="1.73" height="5.90" fill="#ff2a2a" stroke="#ff9a9a" stroke-width="0.3"/>
<rect x="375.92" y="413.10" width="1.73" height="11.80" fill="#ff2a2a" stroke="#ff9a9a" stroke-width="0.3"/>
<rect x="377.65" y="419.00" width="1.73" height="5.90" fill="#ff2a2a" stroke="#ff9a9a" stroke-width="0.3"/>
<rect x="379.38" y="419.00" width="1.73" height="5.90" fill="#ff2a2a" stroke="#ff9a9a" stroke-width="0.3"/>
<rect x="381.10" y="419.00" width="1.73" height="5.90" fill="#ff2a2a" stroke="#ff9a9a" stroke-width="0.3"/>
<rect x="382.83" y="401.30" width="1.73" height="23.60" fill="#ff2a2a" stroke="#ff9a9a" stroke-width="0.3"/>
<rect x="384.55" y="419.00" width="1.73" height="5.90" fill="#ff2a2a" stroke="#ff9a9a" stroke-width="0.3"/>
<rect x="386.28" y="419.00" width="1.73" height="5.90" fill="#ff2a2a" stroke="#ff9a9a" stroke-width="0.3"/>
<rect x="389.73" y="419.00" width="1.73" height="5.90" fill="#ff2a2a" stroke="#ff9a9a" stroke-width="0.3"/>
<rect x="391.46" y="407.20" width="1.73" height="17.70" fill="#ff2a2a" stroke="#ff9a9a" stroke-width="0.3"/>
<rect x="393.18" y="407.20" width="1.73" height="17.70" fill="#ff2a2a" stroke="#ff9a9a" stroke-width="0.3"/>
<rect x="394.91" y="407.20" width="1.73" height="17.70" fill="#ff2a2a" stroke="#ff9a9a" stroke-width="0.3"/>
<rect x="396.63" y="407.20" width="1.73" height="17.70" fill="#ff2a2a" stroke="#ff9a9a" stroke-width="0.3"/>
<rect x="398.36" y="407.20" width="1.73" height="17.70" fill="#ff2a2a" stroke="#ff9a9a" stroke-width="0.3"/>
<rect x="400.09" y="401.30" width="1.73" height="23.60" fill="#ff2a2a" stroke="#ff9a9a" stroke-width="0.3"/>
<rect x="401.81" y="407.20" width="1.73" height="17.70" fill="#ff2a2a" stroke="#ff9a9a" stroke-width="0.3"/>
<rect x="403.54" y="419.00" width="1.73" height="5.90" fill="#ff2a2a" stroke="#ff9a9a" stroke-width="0.3"/>
<rect x="405.26" y="407.20" width="1.73" height="17.70" fill="#ff2a2a" stroke="#ff9a9a" stroke-width="0.3"/>
<rect x="406.99" y="383.60" width="1.73" height="41.30" fill="#ff2a2a" stroke="#ff9a9a" stroke-width="0.3"/>
<rect x="408.72" y="413.10" width="1.73" height="11.80" fill="#ff2a2a" stroke="#ff9a9a" stroke-width="0.3"/>
<rect x="410.44" y="413.10" width="1.73" height="11.80" fill="#ff2a2a" stroke="#ff9a9a" stroke-width="0.3"/>
<rect x="412.17" y="419.00" width="1.73" height="5.90" fill="#ff2a2a" stroke="#ff9a9a" stroke-width="0.3"/>
<rect x="413.89" y="371.80" width="1.73" height="53.10" fill="#ff2a2a" stroke="#ff9a9a" stroke-width="0.3"/>
<rect x="415.62" y="407.20" width="1.73" height="17.70" fill="#ff2a2a" stroke="#ff9a9a" stroke-width="0.3"/>
<rect x="417.34" y="407.20" width="1.73" height="17.70" fill="#ff2a2a" stroke="#ff9a9a" stroke-width="0.3"/>
<rect x="419.07" y="413.10" width="1.73" height="11.80" fill="#ff2a2a" stroke="#ff9a9a" stroke-width="0.3"/>
<rect x="420.80" y="401.30" width="1.73" height="23.60" fill="#ff2a2a" stroke="#ff9a9a" stroke-width="0.3"/>
<rect x="422.52" y="401.30" width="1.73" height="23.60" fill="#ff2a2a" stroke="#ff9a9a" stroke-width="0.3"/>
<rect x="424.25" y="401.30" width="1.73" height="23.60" fill="#ff2a2a" stroke="#ff9a9a" stroke-width="0.3"/>
<rect x="425.97" y="395.40" width="1.73" height="29.50" fill="#ff2a2a" stroke="#ff9a9a" stroke-width="0.3"/>
<rect x="427.70" y="389.50" width="1.73" height="35.40" fill="#ff2a2a" stroke="#ff9a9a" stroke-width="0.3"/>
<rect x="429.43" y="419.00" width="1.73" height="5.90" fill="#ff2a2a" stroke="#ff9a9a" stroke-width="0.3"/>
<rect x="431.15" y="371.80" width="1.73" height="53.10" fill="#ff2a2a" stroke="#ff9a9a" stroke-width="0.3"/>
<rect x="432.88" y="365.90" width="1.73" height="59.00" fill="#ff2a2a" stroke="#ff9a9a" stroke-width="0.3"/>
<rect x="434.60" y="413.10" width="1.73" height="11.80" fill="#ff2a2a" stroke="#ff9a9a" stroke-width="0.3"/>
<rect x="436.33" y="413.10" width="1.73" height="11.80" fill="#ff2a2a" stroke="#ff9a9a" stroke-width="0.3"/>
<rect x="438.05" y="413.10" width="1.73" height="11.80" fill="#ff2a2a" stroke="#ff9a9a" stroke-width="0.3"/>
<rect x="439.78" y="413.10" width="1.73" height="11.80" fill="#ff2a2a" stroke="#ff9a9a" stroke-width="0.3"/>
<rect x="441.51" y="413.10" width="1.73" height="11.80" fill="#ff2a2a" stroke="#ff9a9a" stroke-width="0.3"/>
<rect x="443.23" y="419.00" width="1.73" height="5.90" fill="#ff2a2a" stroke="#ff9a9a" stroke-width="0.3"/>
<rect x="444.96" y="407.20" width="1.73" height="17.70" fill="#ff2a2a" stroke="#ff9a9a" stroke-width="0.3"/>
<rect x="446.68" y="407.20" width="1.73" height="17.70" fill="#ff2a2a" stroke="#ff9a9a" stroke-width="0.3"/>
<rect x="448.41" y="407.20" width="1.73" height="17.70" fill="#ff2a2a" stroke="#ff9a9a" stroke-width="0.3"/>
<rect x="450.14" y="407.20" width="1.73" height="17.70" fill="#ff2a2a" stroke="#ff9a9a" stroke-width="0.3"/>
<rect x="451.86" y="419.00" width="1.73" height="5.90" fill="#ff2a2a" stroke="#ff9a9a" stroke-width="0.3"/>
<rect x="455.31" y="413.10" width="1.73" height="11.80" fill="#ff2a2a" stroke="#ff9a9a" stroke-width="0.3"/>
<rect x="457.04" y="419.00" width="1.73" height="5.90" fill="#ff2a2a" stroke="#ff9a9a" stroke-width="0.3"/>
<rect x="460.49" y="413.10" width="1.73" height="11.80" fill="#ff2a2a" stroke="#ff9a9a" stroke-width="0.3"/>
<rect x="462.22" y="413.10" width="1.73" height="11.80" fill="#ff2a2a" stroke="#ff9a9a" stroke-width="0.3"/>
<rect x="465.67" y="413.10" width="1.73" height="11.80" fill="#ff2a2a" stroke="#ff9a9a" stroke-width="0.3"/>
<rect x="469.12" y="419.00" width="1.73" height="5.90" fill="#ff2a2a" stroke="#ff9a9a" stroke-width="0.3"/>
<rect x="472.57" y="419.00" width="1.73" height="5.90" fill="#ff2a2a" stroke="#ff9a9a" stroke-width="0.3"/>
<line x1="307.20" y1="335.90" x2="307.20" y2="425.50" stroke="#111" stroke-width="1.1" />
<line x1="307.20" y1="424.90" x2="516.00" y2="424.90" stroke="#111" stroke-width="1.4" />
<line x1="304.80" y1="424.90" x2="307.20" y2="424.90" stroke="#111" stroke-width="1.0" />
<text x="303.80" y="427.20" style="font-family:'Liberation Sans',sans-serif;font-weight:bold;font-size:4.9px" text-anchor="end" fill="#000" stroke="#000" stroke-width="0.18" >0</text>
<line x1="304.80" y1="395.40" x2="307.20" y2="395.40" stroke="#111" stroke-width="1.0" />
<text x="303.80" y="397.70" style="font-family:'Liberation Sans',sans-serif;font-weight:bold;font-size:4.9px" text-anchor="end" fill="#000" stroke="#000" stroke-width="0.18" >5</text>
<line x1="304.80" y1="365.90" x2="307.20" y2="365.90" stroke="#111" stroke-width="1.0" />
<text x="303.80" y="368.20" style="font-family:'Liberation Sans',sans-serif;font-weight:bold;font-size:4.9px" text-anchor="end" fill="#000" stroke="#000" stroke-width="0.18" >10</text>
<line x1="304.80" y1="336.40" x2="307.20" y2="336.40" stroke="#111" stroke-width="1.0" />
<text x="303.80" y="338.70" style="font-family:'Liberation Sans',sans-serif;font-weight:bold;font-size:4.9px" text-anchor="end" fill="#000" stroke="#000" stroke-width="0.18" >15</text>
<line x1="307.15" y1="424.90" x2="307.15" y2="427.50" stroke="#111" stroke-width="1.0" />
<text x="307.15" y="433.00" style="font-family:'Liberation Sans',sans-serif;font-weight:bold;font-size:4.9px" text-anchor="middle" fill="#000" stroke="#000" stroke-width="0.18" >-60</text>
<line x1="324.41" y1="424.90" x2="324.41" y2="427.50" stroke="#111" stroke-width="1.0" />
<text x="324.41" y="433.00" style="font-family:'Liberation Sans',sans-serif;font-weight:bold;font-size:4.9px" text-anchor="middle" fill="#000" stroke="#000" stroke-width="0.18" >-50</text>
<line x1="341.67" y1="424.90" x2="341.67" y2="427.50" stroke="#111" stroke-width="1.0" />
<text x="341.67" y="433.00" style="font-family:'Liberation Sans',sans-serif;font-weight:bold;font-size:4.9px" text-anchor="middle" fill="#000" stroke="#000" stroke-width="0.18" >-40</text>
<line x1="358.93" y1="424.90" x2="358.93" y2="427.50" stroke="#111" stroke-width="1.0" />
<text x="358.93" y="433.00" style="font-family:'Liberation Sans',sans-serif;font-weight:bold;font-size:4.9px" text-anchor="middle" fill="#000" stroke="#000" stroke-width="0.18" >-30</text>
<line x1="376.18" y1="424.90" x2="376.18" y2="427.50" stroke="#111" stroke-width="1.0" />
<text x="376.18" y="433.00" style="font-family:'Liberation Sans',sans-serif;font-weight:bold;font-size:4.9px" text-anchor="middle" fill="#000" stroke="#000" stroke-width="0.18" >-20</text>
<line x1="393.44" y1="424.90" x2="393.44" y2="427.50" stroke="#111" stroke-width="1.0" />
<text x="393.44" y="433.00" style="font-family:'Liberation Sans',sans-serif;font-weight:bold;font-size:4.9px" text-anchor="middle" fill="#000" stroke="#000" stroke-width="0.18" >-10</text>
<line x1="410.70" y1="424.90" x2="410.70" y2="427.50" stroke="#111" stroke-width="1.0" />
<text x="410.70" y="433.00" style="font-family:'Liberation Sans',sans-serif;font-weight:bold;font-size:4.9px" text-anchor="middle" fill="#000" stroke="#000" stroke-width="0.18" >0</text>
<line x1="427.96" y1="424.90" x2="427.96" y2="427.50" stroke="#111" stroke-width="1.0" />
<text x="427.96" y="433.00" style="font-family:'Liberation Sans',sans-serif;font-weight:bold;font-size:4.9px" text-anchor="middle" fill="#000" stroke="#000" stroke-width="0.18" >10</text>
<line x1="445.22" y1="424.90" x2="445.22" y2="427.50" stroke="#111" stroke-width="1.0" />
<text x="445.22" y="433.00" style="font-family:'Liberation Sans',sans-serif;font-weight:bold;font-size:4.9px" text-anchor="middle" fill="#000" stroke="#000" stroke-width="0.18" >20</text>
<line x1="462.47" y1="424.90" x2="462.47" y2="427.50" stroke="#111" stroke-width="1.0" />
<text x="462.47" y="433.00" style="font-family:'Liberation Sans',sans-serif;font-weight:bold;font-size:4.9px" text-anchor="middle" fill="#000" stroke="#000" stroke-width="0.18" >30</text>
<line x1="479.73" y1="424.90" x2="479.73" y2="427.50" stroke="#111" stroke-width="1.0" />
<text x="479.73" y="433.00" style="font-family:'Liberation Sans',sans-serif;font-weight:bold;font-size:4.9px" text-anchor="middle" fill="#000" stroke="#000" stroke-width="0.18" >40</text>
<line x1="496.99" y1="424.90" x2="496.99" y2="427.50" stroke="#111" stroke-width="1.0" />
<text x="496.99" y="433.00" style="font-family:'Liberation Sans',sans-serif;font-weight:bold;font-size:4.9px" text-anchor="middle" fill="#000" stroke="#000" stroke-width="0.18" >50</text>
<line x1="514.25" y1="424.90" x2="514.25" y2="427.50" stroke="#111" stroke-width="1.0" />
<text x="514.25" y="433.00" style="font-family:'Liberation Sans',sans-serif;font-weight:bold;font-size:4.9px" text-anchor="middle" fill="#000" stroke="#000" stroke-width="0.18" >60</text>
<text x="402.80" y="446.00" style="font-family:'Liberation Sans',sans-serif;font-weight:bold;font-size:5.28px" text-anchor="middle" fill="#000" stroke="#000" stroke-width="0.18" >Change in heteroplasmy from mother to offspring (%)</text>
<text x="0.00" y="0.00" style="font-family:'Liberation Sans',sans-serif;font-weight:bold;font-size:5.1px" text-anchor="middle" fill="#222" stroke="#222" stroke-width="0" transform="translate(287.6,381.3) rotate(90)">Number of animals in bin</text>
<polyline points="357.20,423.68 358.04,423.57 358.87,423.47 359.71,423.35 360.55,423.23 361.38,423.10 362.22,422.96 363.06,422.82 363.90,422.66 364.73,422.50 365.57,422.32 366.41,422.14 367.24,421.95 368.08,421.75 368.92,421.53 369.75,421.31 370.59,421.08 371.43,420.83 372.27,420.58 373.10,420.31 373.94,420.03 374.78,419.74 375.61,419.44 376.45,419.13 377.29,418.81 378.12,418.48 378.96,418.13 379.80,417.77 380.64,417.41 381.47,417.03 382.31,416.64 383.15,416.25 383.98,415.84 384.82,415.43 385.66,415.00 386.50,414.57 387.33,414.13 388.17,413.69 389.01,413.24 389.84,412.78 390.68,412.32 391.52,411.85 392.35,411.39 393.19,410.92 394.03,410.45 394.87,409.98 395.70,409.51 396.54,409.05 397.38,408.59 398.21,408.13 399.05,407.68 399.89,407.24 400.72,406.80 401.56,406.37 402.40,405.95 403.24,405.55 404.07,405.16 404.91,404.78 405.75,404.41 406.58,404.06 407.42,403.73 408.26,403.42 409.09,403.12 409.93,402.84 410.77,402.59 411.61,402.35 412.44,402.14 413.28,401.95 414.12,401.79 414.95,401.64 415.79,401.53 416.63,401.43 417.47,401.36 418.30,401.32 419.14,401.30 419.98,401.31 420.81,401.34 421.65,401.40 422.49,401.48 423.32,401.59 424.16,401.72 425.00,401.87 425.84,402.05 426.67,402.26 427.51,402.48 428.35,402.73 429.18,402.99 430.02,403.28 430.86,403.59 431.69,403.91 432.53,404.25 433.37,404.61 434.21,404.98 435.04,405.37 435.88,405.77 436.72,406.18 437.55,406.60 438.39,407.04 439.23,407.48 440.07,407.93 440.90,408.38 441.74,408.84 442.58,409.30 443.41,409.77 444.25,410.24 445.09,410.71 445.92,411.18 446.76,411.64 447.60,412.11 448.44,412.57 449.27,413.03 450.11,413.48 450.95,413.93 451.78,414.37 452.62,414.81 453.46,415.23 454.29,415.65 455.13,416.06 455.97,416.46 456.81,416.86 457.64,417.24 458.48,417.61 459.32,417.97 460.15,418.32 460.99,418.66 461.83,418.99 462.66,419.30 463.50,419.61 464.34,419.90 465.18,420.19 466.01,420.46 466.85,420.72 467.69,420.97 468.52,421.21 469.36,421.43 470.20,421.65 471.04,421.86 471.87,422.06 472.71,422.24 473.55,422.42 474.38,422.59" fill="none" stroke="#222" stroke-width="0.8" stroke-dasharray="2.2,1.6"/>
</svg>
</body></html>
